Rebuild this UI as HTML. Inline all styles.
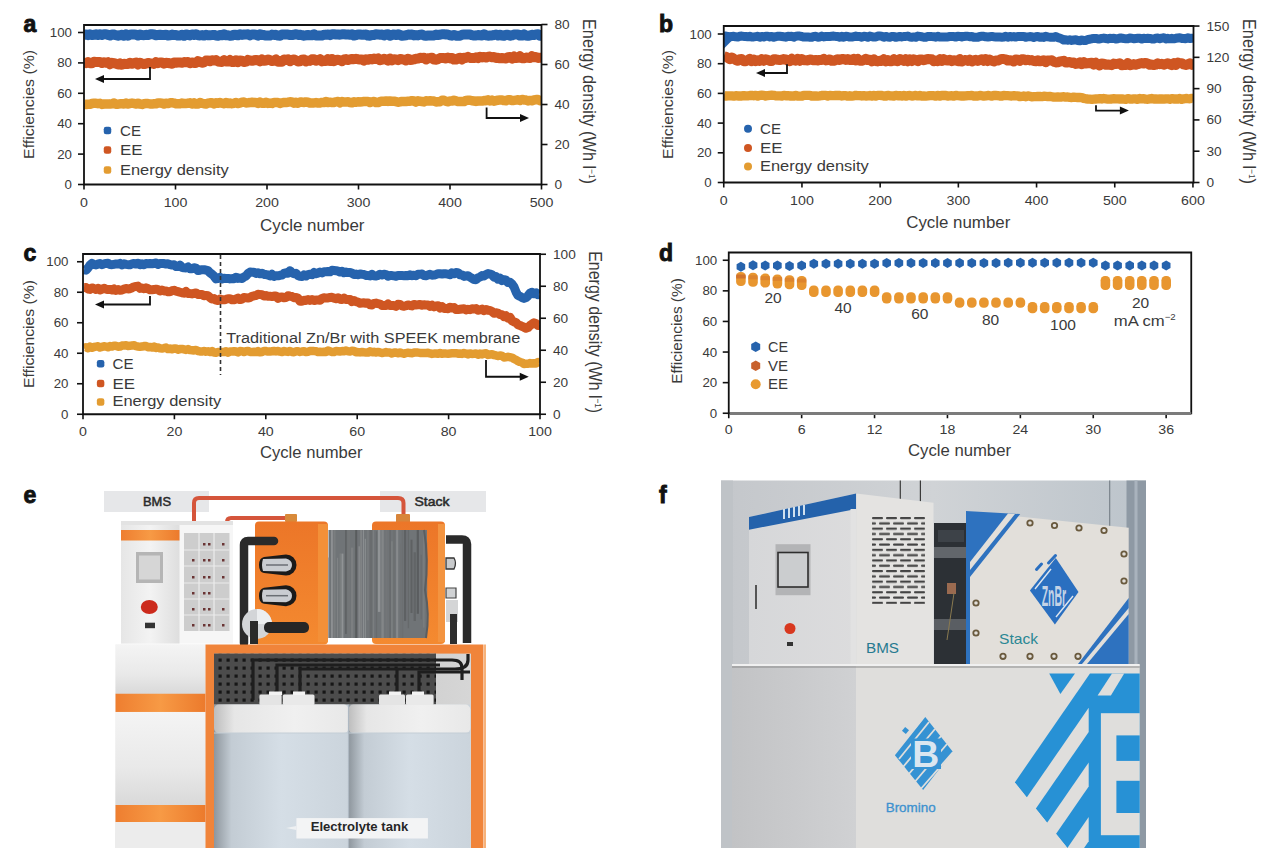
<!DOCTYPE html>
<html><head><meta charset="utf-8"><style>
html,body{margin:0;padding:0;background:#fff;}
body{width:1280px;height:848px;overflow:hidden;}
svg{display:block;font-family:"Liberation Sans",sans-serif;}
</style></head><body>
<svg width="1280" height="848" viewBox="0 0 1280 848" font-family="Liberation Sans, sans-serif">
<rect width="1280" height="848" fill="#ffffff"/>
<clipPath id="ca"><rect x="84" y="25" width="457.5" height="159.5"/></clipPath>
<text x="23.5" y="31.7" font-size="23" text-anchor="start" fill="#111" font-weight="bold" stroke="#111" stroke-width="0.9">a</text>
<polyline points="84.0,34.7 86.0,34.4 88.0,35.2 90.0,34.3 92.0,35.1 94.0,34.8 96.0,34.3 98.0,35.0 100.0,34.3 102.0,34.9 104.0,34.3 106.0,34.3 108.0,34.9 110.0,35.5 112.0,34.4 114.0,34.6 116.0,35.2 118.0,35.7 120.0,35.1 122.0,34.8 124.0,35.8 126.0,34.3 128.0,35.6 130.0,34.7 132.0,34.4 134.0,34.4 136.0,34.7 138.0,35.5 140.0,34.5 142.0,35.1 144.0,35.2 146.0,34.8 148.0,35.1 150.0,34.3 152.0,34.3 154.0,34.5 156.0,35.3 158.0,34.9 160.0,34.7 162.0,35.1 164.0,34.9 166.0,34.7 168.0,35.5 170.0,35.3 172.0,34.6 174.0,35.1 176.0,35.0 178.0,35.6 180.0,35.4 182.0,34.7 184.0,35.8 186.0,34.4 188.0,34.9 190.0,35.4 192.0,34.4 194.0,35.0 196.0,34.3 198.0,35.3 200.0,35.4 202.0,35.1 204.0,35.6 206.0,34.7 208.0,35.3 210.0,35.2 212.0,35.1 214.0,34.9 216.0,35.5 218.0,35.7 220.0,35.0 222.0,35.3 224.0,34.3 226.0,35.3 228.0,35.2 230.0,35.8 232.0,35.5 234.0,34.7 236.0,34.8 238.0,35.3 240.0,34.2 242.0,34.9 244.0,34.5 246.0,34.4 248.0,34.3 250.0,35.4 252.0,34.4 254.0,34.6 256.0,34.8 258.0,35.6 260.0,34.3 262.0,34.9 264.0,35.1 266.0,35.6 268.0,35.5 270.0,35.6 272.0,34.6 274.0,34.9 276.0,34.8 278.0,35.6 280.0,35.7 282.0,34.4 284.0,34.5 286.0,34.6 288.0,34.6 290.0,35.0 292.0,35.1 294.0,34.6 296.0,34.2 298.0,34.9 300.0,34.8 302.0,35.1 304.0,35.7 306.0,35.3 308.0,35.0 310.0,35.2 312.0,35.3 314.0,34.3 316.0,35.6 318.0,35.4 320.0,35.6 322.0,35.5 324.0,34.8 326.0,34.8 328.0,34.4 330.0,35.2 332.0,34.3 334.0,34.3 336.0,34.5 338.0,34.5 340.0,34.7 342.0,34.3 344.0,34.2 346.0,34.4 348.0,34.4 350.0,34.8 352.0,34.2 354.0,35.6 356.0,35.2 358.0,34.4 360.0,34.6 362.0,34.8 364.0,34.8 366.0,34.4 368.0,35.6 370.0,35.8 372.0,34.9 374.0,35.0 376.0,34.3 378.0,34.4 380.0,34.7 382.0,34.6 384.0,35.5 386.0,34.5 388.0,34.2 390.0,35.7 392.0,35.0 394.0,34.4 396.0,35.1 398.0,34.2 400.0,35.0 402.0,35.8 404.0,35.6 406.0,35.3 408.0,34.6 410.0,34.8 412.0,34.5 414.0,35.4 416.0,35.1 418.0,35.4 420.0,34.7 422.0,34.6 424.0,35.5 426.0,35.8 428.0,35.6 430.0,35.5 432.0,35.5 434.0,35.4 436.0,34.6 438.0,35.0 440.0,34.8 442.0,34.2 444.0,34.2 446.0,34.6 448.0,34.6 450.0,35.3 452.0,35.7 454.0,34.9 456.0,35.7 458.0,35.8 460.0,35.7 462.0,34.8 464.0,34.6 466.0,34.6 468.0,34.5 470.0,34.5 472.0,35.2 474.0,35.6 476.0,35.5 478.0,35.0 480.0,35.2 482.0,35.5 484.0,34.3 486.0,35.3 488.0,35.7 490.0,35.5 492.0,35.4 494.0,35.0 496.0,34.5 498.0,35.5 500.0,34.7 502.0,35.5 504.0,35.8 506.0,34.8 508.0,34.8 510.0,35.7 512.0,35.4 514.0,34.5 516.0,34.4 518.0,34.4 520.0,35.6 522.0,35.5 524.0,34.4 526.0,35.5 528.0,35.8 530.0,35.3 532.0,34.8 534.0,35.1 536.0,34.4 538.0,34.2 540.0,35.8 541.5,35.2" fill="none" stroke="#2663ad" stroke-width="10" stroke-linejoin="round" stroke-linecap="butt" clip-path="url(#ca)"/>
<polyline points="84.0,62.1 86.0,63.2 88.0,62.0 90.0,63.2 92.0,63.2 94.0,61.7 96.0,61.9 98.0,62.1 100.0,62.0 102.0,63.0 104.0,62.2 106.0,62.8 108.0,62.1 110.0,64.2 112.0,62.8 114.0,63.2 116.0,63.6 118.0,64.5 120.0,63.4 122.0,64.7 124.0,63.8 126.0,63.9 128.0,64.0 130.0,62.7 132.0,63.8 134.0,63.0 136.0,62.5 138.0,64.5 140.0,62.8 142.0,63.5 144.0,64.1 146.0,63.6 148.0,62.9 150.0,63.4 152.0,63.4 154.0,63.9 156.0,62.1 158.0,63.2 160.0,62.4 162.0,62.4 164.0,63.6 166.0,62.8 168.0,62.9 170.0,63.4 172.0,63.7 174.0,62.4 176.0,62.8 178.0,62.4 180.0,62.4 182.0,62.8 184.0,62.1 186.0,62.2 188.0,62.0 190.0,63.2 192.0,62.5 194.0,62.9 196.0,63.0 198.0,61.1 200.0,61.9 202.0,62.8 204.0,62.4 206.0,60.6 208.0,60.5 210.0,61.2 212.0,60.2 214.0,60.6 216.0,60.1 218.0,61.5 220.0,61.8 222.0,62.0 224.0,60.1 226.0,61.5 228.0,61.4 230.0,60.0 232.0,61.9 234.0,62.1 236.0,60.2 238.0,62.1 240.0,60.6 242.0,60.8 244.0,62.1 246.0,61.7 248.0,59.9 250.0,60.6 252.0,60.8 254.0,60.3 256.0,60.0 258.0,60.3 260.0,61.3 262.0,59.5 264.0,60.8 266.0,60.5 268.0,59.4 270.0,60.2 272.0,61.0 274.0,60.6 276.0,59.5 278.0,61.8 280.0,61.3 282.0,61.8 284.0,59.5 286.0,59.9 288.0,59.3 290.0,61.2 292.0,59.9 294.0,59.5 296.0,60.3 298.0,61.5 300.0,61.3 302.0,59.8 304.0,59.5 306.0,61.5 308.0,60.6 310.0,60.9 312.0,59.3 314.0,59.2 316.0,60.8 318.0,60.1 320.0,59.2 322.0,61.4 324.0,60.6 326.0,61.0 328.0,59.1 330.0,61.1 332.0,59.1 334.0,61.1 336.0,60.0 338.0,59.7 340.0,60.3 342.0,61.2 344.0,59.5 346.0,59.1 348.0,60.1 350.0,59.4 352.0,59.0 354.0,59.2 356.0,58.8 358.0,59.2 360.0,59.5 362.0,59.4 364.0,60.6 366.0,59.3 368.0,59.8 370.0,59.0 372.0,59.4 374.0,58.5 376.0,59.1 378.0,58.4 380.0,60.3 382.0,59.7 384.0,58.8 386.0,59.5 388.0,60.6 390.0,58.5 392.0,60.3 394.0,59.2 396.0,59.4 398.0,60.2 400.0,59.0 402.0,59.3 404.0,59.7 406.0,60.5 408.0,58.8 410.0,60.0 412.0,59.7 414.0,59.4 416.0,58.8 418.0,58.6 420.0,57.8 422.0,58.0 424.0,57.8 426.0,59.5 428.0,58.2 430.0,58.0 432.0,57.7 434.0,59.6 436.0,59.7 438.0,59.1 440.0,58.1 442.0,58.0 444.0,58.1 446.0,58.5 448.0,57.6 450.0,58.4 452.0,57.9 454.0,59.6 456.0,59.6 458.0,58.5 460.0,57.7 462.0,59.5 464.0,57.8 466.0,57.9 468.0,56.9 470.0,57.9 472.0,58.1 474.0,58.1 476.0,57.3 478.0,58.1 480.0,56.7 482.0,57.4 484.0,56.9 486.0,57.6 488.0,56.7 490.0,56.6 492.0,57.3 494.0,57.1 496.0,58.0 498.0,57.8 500.0,58.3 502.0,58.1 504.0,58.2 506.0,58.6 508.0,57.3 510.0,57.1 512.0,58.7 514.0,56.5 516.0,58.0 518.0,57.8 520.0,56.2 522.0,58.2 524.0,58.3 526.0,57.6 528.0,57.8 530.0,58.0 532.0,56.2 534.0,57.2 536.0,57.1 538.0,57.9 540.0,57.8 541.5,57.8" fill="none" stroke="#cf5622" stroke-width="10" stroke-linejoin="round" stroke-linecap="butt" clip-path="url(#ca)"/>
<polyline points="84.0,104.1 86.0,104.6 88.0,104.3 90.0,104.3 92.0,103.5 94.0,103.2 96.0,103.3 98.0,103.7 100.0,103.3 102.0,104.4 104.0,104.0 106.0,104.1 108.0,104.1 110.0,104.1 112.0,103.8 114.0,103.0 116.0,104.3 118.0,104.2 120.0,103.8 122.0,103.8 124.0,104.0 126.0,103.1 128.0,104.1 130.0,103.4 132.0,103.1 134.0,103.4 136.0,104.1 138.0,103.2 140.0,104.1 142.0,104.4 144.0,103.7 146.0,103.5 148.0,103.6 150.0,103.9 152.0,104.1 154.0,103.8 156.0,103.8 158.0,102.9 160.0,103.0 162.0,103.2 164.0,104.0 166.0,103.2 168.0,103.6 170.0,102.8 172.0,102.8 174.0,103.1 176.0,103.8 178.0,103.8 180.0,103.7 182.0,103.1 184.0,103.5 186.0,103.4 188.0,103.3 190.0,102.8 192.0,104.0 194.0,102.9 196.0,104.1 198.0,104.0 200.0,102.5 202.0,103.2 204.0,103.8 206.0,104.0 208.0,103.2 210.0,102.8 212.0,102.7 214.0,103.9 216.0,102.7 218.0,103.3 220.0,102.6 222.0,103.2 224.0,103.8 226.0,102.5 228.0,103.6 230.0,103.1 232.0,103.7 234.0,103.3 236.0,102.6 238.0,103.6 240.0,102.9 242.0,102.2 244.0,102.1 246.0,102.9 248.0,102.8 250.0,102.6 252.0,102.3 254.0,102.6 256.0,102.5 258.0,103.4 260.0,102.0 262.0,103.2 264.0,103.3 266.0,102.2 268.0,103.4 270.0,103.1 272.0,103.4 274.0,102.4 276.0,102.5 278.0,102.5 280.0,103.4 282.0,102.8 284.0,102.4 286.0,102.5 288.0,102.2 290.0,101.8 292.0,101.9 294.0,103.1 296.0,102.2 298.0,103.2 300.0,102.1 302.0,102.1 304.0,102.5 306.0,101.9 308.0,102.2 310.0,103.1 312.0,103.0 314.0,102.9 316.0,102.6 318.0,103.0 320.0,103.0 322.0,102.4 324.0,102.6 326.0,101.5 328.0,102.6 330.0,102.2 332.0,102.6 334.0,102.4 336.0,101.8 338.0,101.4 340.0,102.8 342.0,101.5 344.0,102.1 346.0,101.9 348.0,101.8 350.0,102.5 352.0,102.8 354.0,101.7 356.0,102.3 358.0,101.7 360.0,102.1 362.0,101.8 364.0,101.4 366.0,101.4 368.0,101.4 370.0,102.5 372.0,101.8 374.0,101.4 376.0,102.5 378.0,102.6 380.0,101.7 382.0,101.2 384.0,101.2 386.0,101.0 388.0,101.4 390.0,101.0 392.0,101.2 394.0,101.2 396.0,101.7 398.0,102.2 400.0,101.9 402.0,101.4 404.0,101.4 406.0,101.5 408.0,101.3 410.0,101.2 412.0,100.7 414.0,101.0 416.0,102.1 418.0,100.8 420.0,101.3 422.0,101.5 424.0,101.9 426.0,100.8 428.0,100.9 430.0,100.8 432.0,101.0 434.0,101.1 436.0,101.9 438.0,101.7 440.0,101.7 442.0,100.3 444.0,100.3 446.0,101.4 448.0,101.7 450.0,101.0 452.0,101.1 454.0,100.2 456.0,100.8 458.0,101.6 460.0,101.4 462.0,101.4 464.0,101.6 466.0,100.4 468.0,100.2 470.0,100.2 472.0,100.8 474.0,101.0 476.0,101.4 478.0,101.0 480.0,100.9 482.0,101.1 484.0,100.6 486.0,100.7 488.0,99.8 490.0,101.0 492.0,100.1 494.0,101.2 496.0,100.7 498.0,100.2 500.0,99.9 502.0,100.0 504.0,100.6 506.0,100.7 508.0,99.7 510.0,99.7 512.0,100.4 514.0,100.4 516.0,100.1 518.0,99.8 520.0,100.4 522.0,99.4 524.0,99.9 526.0,100.1 528.0,100.9 530.0,100.4 532.0,100.7 534.0,100.0 536.0,99.6 538.0,99.6 540.0,100.8 541.5,100.3" fill="none" stroke="#e39c31" stroke-width="9.5" stroke-linejoin="round" stroke-linecap="butt" clip-path="url(#ca)"/>
<path d="M84 25 H541.5 V184.5 H84 Z" fill="none" stroke="#111" stroke-width="1.8"/>
<line x1="84.0" y1="184.5" x2="84.0" y2="189.5" stroke="#111" stroke-width="1.6"/>
<text x="84.0" y="206.5" font-size="13" text-anchor="middle" fill="#3a3a3a" font-weight="normal"  textLength="7.9" lengthAdjust="spacingAndGlyphs">0</text>
<line x1="175.5" y1="184.5" x2="175.5" y2="189.5" stroke="#111" stroke-width="1.6"/>
<text x="175.5" y="206.5" font-size="13" text-anchor="middle" fill="#3a3a3a" font-weight="normal"  textLength="23.700000000000003" lengthAdjust="spacingAndGlyphs">100</text>
<line x1="267.0" y1="184.5" x2="267.0" y2="189.5" stroke="#111" stroke-width="1.6"/>
<text x="267.0" y="206.5" font-size="13" text-anchor="middle" fill="#3a3a3a" font-weight="normal"  textLength="23.700000000000003" lengthAdjust="spacingAndGlyphs">200</text>
<line x1="358.5" y1="184.5" x2="358.5" y2="189.5" stroke="#111" stroke-width="1.6"/>
<text x="358.5" y="206.5" font-size="13" text-anchor="middle" fill="#3a3a3a" font-weight="normal"  textLength="23.700000000000003" lengthAdjust="spacingAndGlyphs">300</text>
<line x1="450.0" y1="184.5" x2="450.0" y2="189.5" stroke="#111" stroke-width="1.6"/>
<text x="450.0" y="206.5" font-size="13" text-anchor="middle" fill="#3a3a3a" font-weight="normal"  textLength="23.700000000000003" lengthAdjust="spacingAndGlyphs">400</text>
<line x1="541.5" y1="184.5" x2="541.5" y2="189.5" stroke="#111" stroke-width="1.6"/>
<text x="541.5" y="206.5" font-size="13" text-anchor="middle" fill="#3a3a3a" font-weight="normal"  textLength="23.700000000000003" lengthAdjust="spacingAndGlyphs">500</text>
<line x1="78" y1="184.5" x2="84" y2="184.5" stroke="#111" stroke-width="1.6"/>
<text x="72" y="189.0" font-size="13" text-anchor="end" fill="#3a3a3a" font-weight="normal"  textLength="7.4" lengthAdjust="spacingAndGlyphs">0</text>
<line x1="78" y1="154.1" x2="84" y2="154.1" stroke="#111" stroke-width="1.6"/>
<text x="72" y="158.6" font-size="13" text-anchor="end" fill="#3a3a3a" font-weight="normal"  textLength="14.8" lengthAdjust="spacingAndGlyphs">20</text>
<line x1="78" y1="123.7" x2="84" y2="123.7" stroke="#111" stroke-width="1.6"/>
<text x="72" y="128.2" font-size="13" text-anchor="end" fill="#3a3a3a" font-weight="normal"  textLength="14.8" lengthAdjust="spacingAndGlyphs">40</text>
<line x1="78" y1="93.3" x2="84" y2="93.3" stroke="#111" stroke-width="1.6"/>
<text x="72" y="97.8" font-size="13" text-anchor="end" fill="#3a3a3a" font-weight="normal"  textLength="14.8" lengthAdjust="spacingAndGlyphs">60</text>
<line x1="78" y1="62.900000000000006" x2="84" y2="62.900000000000006" stroke="#111" stroke-width="1.6"/>
<text x="72" y="67.4" font-size="13" text-anchor="end" fill="#3a3a3a" font-weight="normal"  textLength="14.8" lengthAdjust="spacingAndGlyphs">80</text>
<line x1="78" y1="32.5" x2="84" y2="32.5" stroke="#111" stroke-width="1.6"/>
<text x="72" y="37.0" font-size="13" text-anchor="end" fill="#3a3a3a" font-weight="normal"  textLength="22.200000000000003" lengthAdjust="spacingAndGlyphs">100</text>
<line x1="541.5" y1="184.5" x2="547.5" y2="184.5" stroke="#111" stroke-width="1.6"/>
<text x="554.5" y="189.0" font-size="13" text-anchor="start" fill="#3a3a3a" font-weight="normal"  textLength="7.6" lengthAdjust="spacingAndGlyphs">0</text>
<line x1="541.5" y1="144.5" x2="547.5" y2="144.5" stroke="#111" stroke-width="1.6"/>
<text x="554.5" y="149.0" font-size="13" text-anchor="start" fill="#3a3a3a" font-weight="normal"  textLength="15.2" lengthAdjust="spacingAndGlyphs">20</text>
<line x1="541.5" y1="104.5" x2="547.5" y2="104.5" stroke="#111" stroke-width="1.6"/>
<text x="554.5" y="109.0" font-size="13" text-anchor="start" fill="#3a3a3a" font-weight="normal"  textLength="15.2" lengthAdjust="spacingAndGlyphs">40</text>
<line x1="541.5" y1="64.5" x2="547.5" y2="64.5" stroke="#111" stroke-width="1.6"/>
<text x="554.5" y="69.0" font-size="13" text-anchor="start" fill="#3a3a3a" font-weight="normal"  textLength="15.2" lengthAdjust="spacingAndGlyphs">60</text>
<line x1="541.5" y1="24.5" x2="547.5" y2="24.5" stroke="#111" stroke-width="1.6"/>
<text x="554.5" y="29.0" font-size="13" text-anchor="start" fill="#3a3a3a" font-weight="normal"  textLength="15.2" lengthAdjust="spacingAndGlyphs">80</text>
<path d="M150 67 V79 H99" fill="none" stroke="#111" stroke-width="1.8"/>
<path d="M95 79 L104 75 L104 83 Z" fill="#111"/>
<path d="M486.6 107.5 V118 H525" fill="none" stroke="#111" stroke-width="1.8"/>
<path d="M529 118 L520 114 L520 122 Z" fill="#111"/>
<rect x="103.75" y="126.85" width="7.5" height="7.5" rx="2.3" fill="#2663ad"/>
<text x="120" y="135.75" font-size="14.5" text-anchor="start" fill="#3a3a3a" font-weight="normal"  textLength="21" lengthAdjust="spacingAndGlyphs">CE</text>
<rect x="103.75" y="146.25" width="7.5" height="7.5" rx="2.3" fill="#cf5622"/>
<text x="120" y="155.2" font-size="14.5" text-anchor="start" fill="#3a3a3a" font-weight="normal"  textLength="22.5" lengthAdjust="spacingAndGlyphs">EE</text>
<rect x="103.75" y="166.25" width="7.5" height="7.5" rx="2.3" fill="#e39c31"/>
<text x="120" y="175" font-size="14.5" text-anchor="start" fill="#3a3a3a" font-weight="normal"  textLength="108.75" lengthAdjust="spacingAndGlyphs">Energy density</text>
<text x="260" y="231" font-size="16" text-anchor="start" fill="#3a3a3a" font-weight="normal"  textLength="104.5" lengthAdjust="spacingAndGlyphs">Cycle number</text>
<text x="0" y="0" font-size="15" text-anchor="middle" fill="#3a3a3a" transform="translate(34 104.4) rotate(-90)" textLength="109" lengthAdjust="spacingAndGlyphs">Efficiencies (%)</text>
<text x="0" y="0" font-size="17.5" text-anchor="middle" fill="#3a3a3a" transform="translate(583 101.5) rotate(90)" textLength="165" lengthAdjust="spacingAndGlyphs">Energy density (Wh l<tspan font-size="9" dy="-6">−1</tspan><tspan dy="6">)</tspan></text>
<clipPath id="cb"><rect x="723.75" y="26" width="469.75" height="156.5"/></clipPath>
<text x="659" y="31.9" font-size="23" text-anchor="start" fill="#111" font-weight="bold" stroke="#111" stroke-width="0.9">b</text>
<polyline points="723.8,36.4 725.8,36.0 727.8,36.6 729.8,36.8 731.8,36.5 733.8,36.3 735.8,36.8 737.8,37.1 739.8,36.3 741.8,36.1 743.8,36.4 745.8,36.5 747.8,36.8 749.8,36.3 751.8,37.0 753.8,36.9 755.8,36.6 757.8,36.3 759.8,37.2 761.8,36.4 763.8,37.0 765.8,36.3 767.8,36.3 769.8,36.9 771.8,36.4 773.8,37.2 775.8,36.6 777.8,36.3 779.8,36.3 781.8,36.5 783.8,36.8 785.8,37.2 787.8,36.2 789.8,36.5 791.8,36.3 793.8,37.2 795.8,36.2 797.8,36.1 799.8,36.1 801.8,36.5 803.8,37.1 805.8,37.1 807.8,36.9 809.8,37.2 811.8,37.2 813.8,36.4 815.8,36.3 817.8,37.2 819.8,37.0 821.8,36.1 823.8,36.9 825.8,36.5 827.8,36.5 829.8,36.5 831.8,36.3 833.8,36.1 835.8,36.4 837.8,36.5 839.8,37.2 841.8,36.2 843.8,37.2 845.8,36.3 847.8,36.5 849.8,37.1 851.8,37.1 853.8,36.6 855.8,36.1 857.8,36.6 859.8,36.5 861.8,37.2 863.8,36.3 865.8,36.5 867.8,37.2 869.8,36.1 871.8,36.6 873.8,37.1 875.8,37.0 877.8,36.1 879.8,36.1 881.8,36.2 883.8,37.2 885.8,36.4 887.8,37.0 889.8,37.2 891.8,36.5 893.8,36.4 895.8,37.3 897.8,36.8 899.8,36.4 901.8,37.0 903.8,36.5 905.8,36.4 907.8,36.1 909.8,37.0 911.8,37.2 913.8,36.9 915.8,37.2 917.8,36.1 919.8,36.4 921.8,36.7 923.8,37.3 925.8,37.3 927.8,36.6 929.8,36.4 931.8,36.6 933.8,36.7 935.8,37.2 937.8,36.3 939.8,37.1 941.8,37.0 943.8,37.1 945.8,37.1 947.8,36.9 949.8,36.5 951.8,36.5 953.8,36.6 955.8,37.1 957.8,36.2 959.8,36.4 961.8,37.0 963.8,36.4 965.8,36.2 967.8,36.2 969.8,36.8 971.8,36.5 973.8,37.3 975.8,37.2 977.8,37.3 979.8,36.5 981.8,36.3 983.8,36.3 985.8,36.8 987.8,37.0 989.8,36.7 991.8,36.4 993.8,36.7 995.8,36.9 997.8,37.0 999.8,37.1 1001.8,37.2 1003.8,37.0 1005.8,36.3 1007.8,37.2 1009.8,36.5 1011.8,36.9 1013.8,36.6 1015.8,37.1 1017.8,36.4 1019.8,36.5 1021.8,36.5 1023.8,36.4 1025.8,37.2 1027.8,36.9 1029.8,36.6 1031.8,36.7 1033.8,37.4 1035.8,36.8 1037.8,36.5 1039.8,37.2 1041.8,37.0 1043.8,37.4 1045.8,36.3 1047.8,36.8 1049.8,37.2 1051.8,37.2 1053.8,37.3 1055.8,36.6 1057.8,37.6 1059.8,38.1 1061.8,38.9 1063.8,40.1 1065.8,39.7 1067.8,40.3 1069.8,39.7 1071.8,40.4 1073.8,40.0 1075.8,39.8 1077.8,40.5 1079.8,40.8 1081.8,39.9 1083.8,40.6 1085.8,40.4 1087.8,39.5 1089.8,39.3 1091.8,38.7 1093.8,38.4 1095.8,38.4 1097.8,38.9 1099.8,38.9 1101.8,38.4 1103.8,38.1 1105.8,38.5 1107.8,38.9 1109.8,38.3 1111.8,38.4 1113.8,38.3 1115.8,39.0 1117.8,38.7 1119.8,38.1 1121.8,38.1 1123.8,38.5 1125.8,38.7 1127.8,38.8 1129.8,38.1 1131.8,38.2 1133.8,38.8 1135.8,38.5 1137.8,38.3 1139.8,38.3 1141.8,39.1 1143.8,38.3 1145.8,38.6 1147.8,38.3 1149.8,38.4 1151.8,38.9 1153.8,39.1 1155.8,38.3 1157.8,38.1 1159.8,38.7 1161.8,38.1 1163.8,37.8 1165.8,38.9 1167.8,38.3 1169.8,38.8 1171.8,38.3 1173.8,38.8 1175.8,38.3 1177.8,38.0 1179.8,37.8 1181.8,38.4 1183.8,38.5 1185.8,38.8 1187.8,37.8 1189.8,38.5 1191.8,38.2 1193.5,38.3" fill="none" stroke="#2663ad" stroke-width="9" stroke-linejoin="round" stroke-linecap="butt" clip-path="url(#cb)"/>
<polygon points="724,34 732,40.5 724,48.4" fill="#2663ad"/>
<polyline points="723.8,56.1 725.8,56.8 727.8,57.8 729.8,59.2 731.8,57.5 733.8,58.8 735.8,60.0 737.8,60.8 739.8,59.2 741.8,59.0 743.8,61.2 745.8,61.2 747.8,60.0 749.8,58.8 751.8,61.1 753.8,59.7 755.8,61.1 757.8,60.3 759.8,60.9 761.8,59.1 763.8,60.8 765.8,59.3 767.8,59.8 769.8,60.9 771.8,60.9 773.8,59.2 775.8,59.3 777.8,59.8 779.8,60.1 781.8,59.7 783.8,59.1 785.8,59.4 787.8,60.6 789.8,61.1 791.8,58.8 793.8,60.2 795.8,60.7 797.8,58.8 799.8,60.9 801.8,59.1 803.8,60.3 805.8,60.2 807.8,60.4 809.8,59.5 811.8,59.8 813.8,60.3 815.8,59.9 817.8,60.5 819.8,59.9 821.8,59.9 823.8,58.8 825.8,60.4 827.8,60.0 829.8,59.4 831.8,60.8 833.8,60.8 835.8,60.0 837.8,59.2 839.8,60.0 841.8,59.1 843.8,59.1 845.8,59.9 847.8,59.0 849.8,59.9 851.8,60.1 853.8,58.9 855.8,60.4 857.8,59.0 859.8,60.7 861.8,60.8 863.8,60.1 865.8,58.9 867.8,60.1 869.8,59.8 871.8,61.3 873.8,59.2 875.8,61.0 877.8,61.4 879.8,60.7 881.8,60.9 883.8,59.3 885.8,61.4 887.8,60.1 889.8,61.3 891.8,61.2 893.8,59.2 895.8,60.9 897.8,61.2 899.8,59.0 901.8,59.7 903.8,60.8 905.8,59.2 907.8,61.2 909.8,59.5 911.8,61.0 913.8,59.2 915.8,60.1 917.8,61.2 919.8,59.4 921.8,59.5 923.8,60.2 925.8,59.7 927.8,58.9 929.8,59.3 931.8,59.3 933.8,61.3 935.8,60.6 937.8,61.2 939.8,59.3 941.8,60.9 943.8,59.2 945.8,60.2 947.8,60.5 949.8,59.8 951.8,61.1 953.8,60.3 955.8,60.4 957.8,61.2 959.8,59.1 961.8,61.5 963.8,60.5 965.8,59.9 967.8,60.9 969.8,59.6 971.8,61.5 973.8,60.4 975.8,59.8 977.8,60.9 979.8,60.0 981.8,59.3 983.8,60.8 985.8,59.0 987.8,61.0 989.8,59.6 991.8,60.6 993.8,61.5 995.8,60.4 997.8,60.6 999.8,59.7 1001.8,58.9 1003.8,59.1 1005.8,59.4 1007.8,60.6 1009.8,60.2 1011.8,60.4 1013.8,61.5 1015.8,59.5 1017.8,59.8 1019.8,60.9 1021.8,59.3 1023.8,59.3 1025.8,60.3 1027.8,59.7 1029.8,60.4 1031.8,60.1 1033.8,61.1 1035.8,61.2 1037.8,60.2 1039.8,61.3 1041.8,61.0 1043.8,60.2 1045.8,62.3 1047.8,60.6 1049.8,60.4 1051.8,60.3 1053.8,61.7 1055.8,62.4 1057.8,62.3 1059.8,61.5 1061.8,61.3 1063.8,60.7 1065.8,62.5 1067.8,62.4 1069.8,62.0 1071.8,62.9 1073.8,62.5 1075.8,63.9 1077.8,63.5 1079.8,62.4 1081.8,64.2 1083.8,62.1 1085.8,63.5 1087.8,63.3 1089.8,63.0 1091.8,62.7 1093.8,64.7 1095.8,62.8 1097.8,64.4 1099.8,65.5 1101.8,63.6 1103.8,63.7 1105.8,64.7 1107.8,64.5 1109.8,64.8 1111.8,65.2 1113.8,63.6 1115.8,63.9 1117.8,63.8 1119.8,63.2 1121.8,65.3 1123.8,65.1 1125.8,64.9 1127.8,63.0 1129.8,65.2 1131.8,64.9 1133.8,64.1 1135.8,64.8 1137.8,64.1 1139.8,63.5 1141.8,63.1 1143.8,63.5 1145.8,62.9 1147.8,63.7 1149.8,64.8 1151.8,64.6 1153.8,65.0 1155.8,64.6 1157.8,63.4 1159.8,64.2 1161.8,63.8 1163.8,64.7 1165.8,64.0 1167.8,63.3 1169.8,64.3 1171.8,65.1 1173.8,63.2 1175.8,64.9 1177.8,62.6 1179.8,63.2 1181.8,63.2 1183.8,64.5 1185.8,65.0 1187.8,64.4 1189.8,63.3 1191.8,64.8 1193.5,63.3" fill="none" stroke="#cf5622" stroke-width="10" stroke-linejoin="round" stroke-linecap="butt" clip-path="url(#cb)"/>
<polyline points="723.8,95.4 725.8,96.1 727.8,95.8 729.8,95.9 731.8,95.9 733.8,96.2 735.8,95.7 737.8,96.0 739.8,95.9 741.8,96.1 743.8,95.6 745.8,95.9 747.8,95.8 749.8,95.5 751.8,95.4 753.8,95.8 755.8,95.3 757.8,96.1 759.8,95.4 761.8,95.2 763.8,95.3 765.8,96.1 767.8,95.6 769.8,95.4 771.8,95.2 773.8,95.3 775.8,95.9 777.8,95.9 779.8,95.9 781.8,96.0 783.8,95.3 785.8,95.8 787.8,95.6 789.8,96.0 791.8,96.0 793.8,96.1 795.8,95.3 797.8,96.1 799.8,96.1 801.8,96.2 803.8,95.3 805.8,95.4 807.8,95.3 809.8,95.3 811.8,96.1 813.8,96.0 815.8,95.9 817.8,96.1 819.8,95.9 821.8,95.5 823.8,95.3 825.8,95.3 827.8,96.0 829.8,95.4 831.8,95.6 833.8,95.7 835.8,95.3 837.8,95.5 839.8,95.5 841.8,96.0 843.8,95.6 845.8,95.6 847.8,96.2 849.8,95.7 851.8,96.1 853.8,95.9 855.8,95.3 857.8,95.7 859.8,95.7 861.8,96.0 863.8,95.6 865.8,96.0 867.8,95.8 869.8,95.5 871.8,96.1 873.8,95.3 875.8,96.1 877.8,95.4 879.8,95.3 881.8,95.5 883.8,96.0 885.8,96.2 887.8,95.3 889.8,95.8 891.8,95.8 893.8,96.1 895.8,95.4 897.8,95.8 899.8,95.6 901.8,96.1 903.8,95.5 905.8,96.2 907.8,95.6 909.8,95.5 911.8,96.0 913.8,95.8 915.8,95.4 917.8,95.9 919.8,95.4 921.8,96.1 923.8,96.0 925.8,96.1 927.8,95.9 929.8,95.6 931.8,95.7 933.8,95.7 935.8,96.2 937.8,95.4 939.8,96.2 941.8,95.3 943.8,95.5 945.8,95.5 947.8,96.2 949.8,95.8 951.8,95.7 953.8,96.2 955.8,95.5 957.8,95.7 959.8,95.8 961.8,96.0 963.8,96.0 965.8,95.9 967.8,95.6 969.8,95.6 971.8,95.4 973.8,96.1 975.8,96.0 977.8,96.0 979.8,95.5 981.8,95.7 983.8,96.1 985.8,95.9 987.8,95.4 989.8,95.8 991.8,96.2 993.8,95.5 995.8,95.5 997.8,95.6 999.8,96.0 1001.8,96.2 1003.8,95.5 1005.8,95.6 1007.8,95.7 1009.8,95.8 1011.8,96.0 1013.8,95.7 1015.8,95.9 1017.8,95.8 1019.8,96.7 1021.8,96.4 1023.8,95.9 1025.8,96.8 1027.8,95.9 1029.8,96.3 1031.8,96.9 1033.8,96.7 1035.8,96.7 1037.8,96.5 1039.8,96.3 1041.8,96.7 1043.8,96.2 1045.8,96.4 1047.8,96.6 1049.8,96.3 1051.8,96.7 1053.8,97.1 1055.8,97.1 1057.8,96.9 1059.8,97.1 1061.8,97.0 1063.8,96.7 1065.8,97.2 1067.8,97.0 1069.8,97.4 1071.8,97.6 1073.8,97.1 1075.8,97.3 1077.8,97.5 1079.8,97.5 1081.8,97.6 1083.8,98.4 1085.8,98.8 1087.8,99.0 1089.8,99.1 1091.8,99.3 1093.8,99.1 1095.8,99.0 1097.8,98.9 1099.8,98.7 1101.8,99.0 1103.8,98.5 1105.8,98.8 1107.8,99.2 1109.8,99.1 1111.8,99.0 1113.8,98.7 1115.8,98.8 1117.8,98.9 1119.8,99.0 1121.8,98.8 1123.8,99.1 1125.8,99.3 1127.8,98.6 1129.8,99.1 1131.8,99.2 1133.8,98.8 1135.8,98.9 1137.8,99.4 1139.8,98.4 1141.8,98.9 1143.8,98.6 1145.8,99.2 1147.8,99.3 1149.8,98.9 1151.8,98.5 1153.8,99.0 1155.8,98.9 1157.8,99.1 1159.8,98.9 1161.8,99.0 1163.8,99.2 1165.8,98.9 1167.8,98.8 1169.8,99.3 1171.8,98.6 1173.8,99.1 1175.8,98.8 1177.8,99.2 1179.8,98.5 1181.8,99.4 1183.8,98.8 1185.8,98.5 1187.8,98.7 1189.8,98.8 1191.8,98.4 1193.5,98.8" fill="none" stroke="#e39c31" stroke-width="9.3" stroke-linejoin="round" stroke-linecap="butt" clip-path="url(#cb)"/>
<path d="M723.75 26 H1193.5 V182.5 H723.75 Z" fill="none" stroke="#111" stroke-width="1.8"/>
<line x1="723.75" y1="182.5" x2="723.75" y2="187.5" stroke="#111" stroke-width="1.6"/>
<text x="723.75" y="204.5" font-size="13" text-anchor="middle" fill="#3a3a3a" font-weight="normal"  textLength="7.9" lengthAdjust="spacingAndGlyphs">0</text>
<line x1="801.95" y1="182.5" x2="801.95" y2="187.5" stroke="#111" stroke-width="1.6"/>
<text x="801.95" y="204.5" font-size="13" text-anchor="middle" fill="#3a3a3a" font-weight="normal"  textLength="23.700000000000003" lengthAdjust="spacingAndGlyphs">100</text>
<line x1="880.15" y1="182.5" x2="880.15" y2="187.5" stroke="#111" stroke-width="1.6"/>
<text x="880.15" y="204.5" font-size="13" text-anchor="middle" fill="#3a3a3a" font-weight="normal"  textLength="23.700000000000003" lengthAdjust="spacingAndGlyphs">200</text>
<line x1="958.35" y1="182.5" x2="958.35" y2="187.5" stroke="#111" stroke-width="1.6"/>
<text x="958.35" y="204.5" font-size="13" text-anchor="middle" fill="#3a3a3a" font-weight="normal"  textLength="23.700000000000003" lengthAdjust="spacingAndGlyphs">300</text>
<line x1="1036.55" y1="182.5" x2="1036.55" y2="187.5" stroke="#111" stroke-width="1.6"/>
<text x="1036.55" y="204.5" font-size="13" text-anchor="middle" fill="#3a3a3a" font-weight="normal"  textLength="23.700000000000003" lengthAdjust="spacingAndGlyphs">400</text>
<line x1="1114.75" y1="182.5" x2="1114.75" y2="187.5" stroke="#111" stroke-width="1.6"/>
<text x="1114.75" y="204.5" font-size="13" text-anchor="middle" fill="#3a3a3a" font-weight="normal"  textLength="23.700000000000003" lengthAdjust="spacingAndGlyphs">500</text>
<line x1="1192.95" y1="182.5" x2="1192.95" y2="187.5" stroke="#111" stroke-width="1.6"/>
<text x="1192.95" y="204.5" font-size="13" text-anchor="middle" fill="#3a3a3a" font-weight="normal"  textLength="23.700000000000003" lengthAdjust="spacingAndGlyphs">600</text>
<line x1="717.75" y1="182.5" x2="723.75" y2="182.5" stroke="#111" stroke-width="1.6"/>
<text x="711.75" y="187.0" font-size="13" text-anchor="end" fill="#3a3a3a" font-weight="normal"  textLength="7.4" lengthAdjust="spacingAndGlyphs">0</text>
<line x1="717.75" y1="152.8" x2="723.75" y2="152.8" stroke="#111" stroke-width="1.6"/>
<text x="711.75" y="157.3" font-size="13" text-anchor="end" fill="#3a3a3a" font-weight="normal"  textLength="14.8" lengthAdjust="spacingAndGlyphs">20</text>
<line x1="717.75" y1="123.1" x2="723.75" y2="123.1" stroke="#111" stroke-width="1.6"/>
<text x="711.75" y="127.6" font-size="13" text-anchor="end" fill="#3a3a3a" font-weight="normal"  textLength="14.8" lengthAdjust="spacingAndGlyphs">40</text>
<line x1="717.75" y1="93.39999999999999" x2="723.75" y2="93.39999999999999" stroke="#111" stroke-width="1.6"/>
<text x="711.75" y="97.89999999999999" font-size="13" text-anchor="end" fill="#3a3a3a" font-weight="normal"  textLength="14.8" lengthAdjust="spacingAndGlyphs">60</text>
<line x1="717.75" y1="63.69999999999999" x2="723.75" y2="63.69999999999999" stroke="#111" stroke-width="1.6"/>
<text x="711.75" y="68.19999999999999" font-size="13" text-anchor="end" fill="#3a3a3a" font-weight="normal"  textLength="14.8" lengthAdjust="spacingAndGlyphs">80</text>
<line x1="717.75" y1="34.0" x2="723.75" y2="34.0" stroke="#111" stroke-width="1.6"/>
<text x="711.75" y="38.5" font-size="13" text-anchor="end" fill="#3a3a3a" font-weight="normal"  textLength="22.200000000000003" lengthAdjust="spacingAndGlyphs">100</text>
<line x1="1193.5" y1="182.5" x2="1199.5" y2="182.5" stroke="#111" stroke-width="1.6"/>
<text x="1206.5" y="187.0" font-size="13" text-anchor="start" fill="#3a3a3a" font-weight="normal"  textLength="7.6" lengthAdjust="spacingAndGlyphs">0</text>
<line x1="1193.5" y1="151.21" x2="1199.5" y2="151.21" stroke="#111" stroke-width="1.6"/>
<text x="1206.5" y="155.71" font-size="13" text-anchor="start" fill="#3a3a3a" font-weight="normal"  textLength="15.2" lengthAdjust="spacingAndGlyphs">30</text>
<line x1="1193.5" y1="119.92" x2="1199.5" y2="119.92" stroke="#111" stroke-width="1.6"/>
<text x="1206.5" y="124.42" font-size="13" text-anchor="start" fill="#3a3a3a" font-weight="normal"  textLength="15.2" lengthAdjust="spacingAndGlyphs">60</text>
<line x1="1193.5" y1="88.63000000000001" x2="1199.5" y2="88.63000000000001" stroke="#111" stroke-width="1.6"/>
<text x="1206.5" y="93.13000000000001" font-size="13" text-anchor="start" fill="#3a3a3a" font-weight="normal"  textLength="15.2" lengthAdjust="spacingAndGlyphs">90</text>
<line x1="1193.5" y1="57.34" x2="1199.5" y2="57.34" stroke="#111" stroke-width="1.6"/>
<text x="1206.5" y="61.84" font-size="13" text-anchor="start" fill="#3a3a3a" font-weight="normal"  textLength="22.799999999999997" lengthAdjust="spacingAndGlyphs">120</text>
<line x1="1193.5" y1="26.05000000000001" x2="1199.5" y2="26.05000000000001" stroke="#111" stroke-width="1.6"/>
<text x="1206.5" y="30.55000000000001" font-size="13" text-anchor="start" fill="#3a3a3a" font-weight="normal"  textLength="22.799999999999997" lengthAdjust="spacingAndGlyphs">150</text>
<path d="M787 64.3 V73 H760" fill="none" stroke="#111" stroke-width="1.8"/>
<path d="M756 73 L765 69 L765 77 Z" fill="#111"/>
<path d="M1096 105.2 V110.6 H1124.9" fill="none" stroke="#111" stroke-width="1.8"/>
<path d="M1128.9 110.6 L1119.9 106.6 L1119.9 114.6 Z" fill="#111"/>
<circle cx="748" cy="128.75" r="4" fill="#2663ad"/>
<text x="760" y="133.75" font-size="14.5" text-anchor="start" fill="#3a3a3a" font-weight="normal"  textLength="21" lengthAdjust="spacingAndGlyphs">CE</text>
<circle cx="748" cy="148" r="4" fill="#cf5622"/>
<text x="760" y="153.25" font-size="14.5" text-anchor="start" fill="#3a3a3a" font-weight="normal"  textLength="22.5" lengthAdjust="spacingAndGlyphs">EE</text>
<circle cx="748" cy="166.5" r="4" fill="#e39c31"/>
<text x="760" y="171.25" font-size="14.5" text-anchor="start" fill="#3a3a3a" font-weight="normal"  textLength="108.75" lengthAdjust="spacingAndGlyphs">Energy density</text>
<text x="906.25" y="227.5" font-size="16" text-anchor="start" fill="#3a3a3a" font-weight="normal"  textLength="104" lengthAdjust="spacingAndGlyphs">Cycle number</text>
<text x="0" y="0" font-size="15" text-anchor="middle" fill="#3a3a3a" transform="translate(673.3 104.4) rotate(-90)" textLength="109" lengthAdjust="spacingAndGlyphs">Efficiencies (%)</text>
<text x="0" y="0" font-size="17.5" text-anchor="middle" fill="#3a3a3a" transform="translate(1242.5 101.5) rotate(90)" textLength="165" lengthAdjust="spacingAndGlyphs">Energy density (Wh l<tspan font-size="9" dy="-6">−1</tspan><tspan dy="6">)</tspan></text>
<clipPath id="cc"><rect x="83" y="254" width="457" height="160.25"/></clipPath>
<text x="23.5" y="261" font-size="23" text-anchor="start" fill="#111" font-weight="bold" stroke="#111" stroke-width="0.9">c</text>
<polyline points="84.0,269.8 86.0,270.2 88.0,268.0 90.0,265.2 92.0,263.4 94.0,264.5 96.0,265.0 98.0,264.1 100.0,263.4 102.0,264.7 104.0,263.8 106.0,263.4 108.0,263.2 110.0,264.6 112.0,264.7 114.0,264.3 116.0,263.9 118.0,264.1 120.0,263.4 122.0,265.0 124.0,263.7 126.0,264.3 128.0,264.7 130.0,264.7 132.0,263.9 134.0,263.5 136.0,264.1 138.0,263.2 140.0,264.7 142.0,263.7 144.0,264.8 146.0,263.5 148.0,263.7 150.0,263.5 152.0,263.8 154.0,263.3 156.0,262.9 158.0,264.5 160.0,263.5 162.0,263.4 164.0,263.6 166.0,264.0 168.0,263.8 170.0,264.7 172.0,265.1 174.0,264.8 176.0,266.4 178.0,266.6 180.0,265.2 182.0,267.3 184.0,267.8 186.0,267.9 188.0,266.9 190.0,268.8 192.0,268.7 194.0,267.7 196.0,268.1 198.0,270.5 200.0,270.2 202.0,269.7 204.0,269.7 206.0,270.2 208.0,270.7 210.0,272.8 212.0,274.2 214.0,276.1 216.0,278.9 218.0,278.6 220.0,277.3 222.0,278.9 224.0,278.2 226.0,278.6 228.0,278.4 230.0,278.9 232.0,278.6 234.0,278.7 236.0,277.3 238.0,278.4 240.0,278.1 242.0,278.5 244.0,276.9 246.0,276.1 248.0,273.5 250.0,272.1 252.0,272.3 254.0,272.3 256.0,273.4 258.0,272.7 260.0,273.8 262.0,273.3 264.0,274.4 266.0,274.6 268.0,275.0 270.0,275.9 272.0,274.3 274.0,276.4 276.0,275.8 278.0,275.8 280.0,275.3 282.0,275.1 284.0,273.4 286.0,272.8 288.0,273.3 290.0,270.7 292.0,272.8 294.0,273.8 296.0,273.3 298.0,275.5 300.0,276.3 302.0,276.5 304.0,274.9 306.0,276.0 308.0,274.6 310.0,274.2 312.0,274.7 314.0,272.5 316.0,273.7 318.0,273.1 320.0,272.1 322.0,273.0 324.0,271.7 326.0,271.7 328.0,271.5 330.0,271.8 332.0,270.3 334.0,270.5 336.0,270.7 338.0,271.2 340.0,272.1 342.0,271.3 344.0,272.7 346.0,272.1 348.0,272.6 350.0,272.4 352.0,273.2 354.0,274.5 356.0,274.1 358.0,274.7 360.0,274.0 362.0,274.3 364.0,274.5 366.0,275.4 368.0,275.6 370.0,275.9 372.0,274.3 374.0,275.8 376.0,276.1 378.0,275.4 380.0,274.3 382.0,274.9 384.0,274.2 386.0,274.6 388.0,276.2 390.0,275.5 392.0,275.6 394.0,275.9 396.0,276.2 398.0,275.5 400.0,275.6 402.0,275.6 404.0,275.7 406.0,275.5 408.0,275.7 410.0,274.7 412.0,275.7 414.0,275.2 416.0,275.8 418.0,274.2 420.0,274.3 422.0,273.9 424.0,275.5 426.0,275.7 428.0,275.0 430.0,274.3 432.0,275.2 434.0,275.1 436.0,274.5 438.0,273.8 440.0,273.8 442.0,274.0 444.0,273.7 446.0,273.8 448.0,274.2 450.0,274.8 452.0,272.8 454.0,273.8 456.0,272.6 458.0,272.7 460.0,274.8 462.0,275.0 464.0,276.4 466.0,276.0 468.0,275.7 470.0,277.1 472.0,278.2 474.0,279.6 476.0,279.7 478.0,277.9 480.0,277.0 482.0,275.6 484.0,276.1 486.0,274.5 488.0,273.6 490.0,274.1 492.0,274.8 494.0,277.1 496.0,276.6 498.0,279.2 500.0,278.1 502.0,280.6 504.0,279.7 506.0,280.2 508.0,282.5 510.0,282.2 512.0,284.1 514.0,286.9 516.0,291.9 518.0,295.4 520.0,296.3 522.0,297.6 524.0,298.4 526.0,297.6 528.0,295.8 530.0,293.1 532.0,292.3 534.0,293.8 536.0,292.8 538.0,294.8 539.0,294.5" fill="none" stroke="#2663ad" stroke-width="9" stroke-linejoin="round" stroke-linecap="butt" clip-path="url(#cc)"/>
<polyline points="84.0,287.4 86.0,287.5 88.0,289.0 90.0,289.4 92.0,287.9 94.0,288.5 96.0,289.5 98.0,288.3 100.0,289.9 102.0,289.2 104.0,288.3 106.0,289.1 108.0,289.6 110.0,289.4 112.0,290.0 114.0,288.9 116.0,290.5 118.0,289.6 120.0,290.3 122.0,290.0 124.0,289.1 126.0,288.5 128.0,288.9 130.0,288.7 132.0,287.8 134.0,286.8 136.0,286.4 138.0,286.1 140.0,288.4 142.0,288.1 144.0,288.7 146.0,287.8 148.0,288.7 150.0,289.8 152.0,289.8 154.0,289.6 156.0,289.2 158.0,289.7 160.0,291.0 162.0,290.0 164.0,290.9 166.0,290.9 168.0,291.7 170.0,291.7 172.0,290.7 174.0,290.3 176.0,291.1 178.0,291.6 180.0,292.2 182.0,292.8 184.0,293.2 186.0,291.5 188.0,293.4 190.0,293.6 192.0,293.9 194.0,293.4 196.0,292.9 198.0,294.4 200.0,294.5 202.0,294.4 204.0,295.8 206.0,295.4 208.0,295.7 210.0,297.6 212.0,299.0 214.0,298.6 216.0,300.2 218.0,300.6 220.0,299.0 222.0,299.7 224.0,299.8 226.0,299.3 228.0,298.7 230.0,298.7 232.0,299.8 234.0,299.8 236.0,299.0 238.0,298.1 240.0,299.6 242.0,299.1 244.0,297.4 246.0,297.8 248.0,298.0 250.0,297.6 252.0,296.3 254.0,295.8 256.0,295.6 258.0,294.3 260.0,294.6 262.0,294.8 264.0,296.1 266.0,295.6 268.0,296.3 270.0,296.2 272.0,296.6 274.0,296.0 276.0,296.0 278.0,298.4 280.0,297.2 282.0,296.9 284.0,297.8 286.0,297.6 288.0,295.7 290.0,296.2 292.0,296.5 294.0,297.7 296.0,297.5 298.0,298.3 300.0,301.3 302.0,301.3 304.0,300.3 306.0,300.4 308.0,299.5 310.0,300.5 312.0,299.6 314.0,300.6 316.0,300.1 318.0,300.0 320.0,300.2 322.0,298.5 324.0,297.8 326.0,298.1 328.0,297.9 330.0,297.5 332.0,297.3 334.0,298.2 336.0,298.8 338.0,297.7 340.0,299.2 342.0,299.5 344.0,298.0 346.0,299.6 348.0,299.6 350.0,299.4 352.0,301.6 354.0,300.5 356.0,301.6 358.0,302.1 360.0,303.2 362.0,303.0 364.0,302.8 366.0,303.3 368.0,302.9 370.0,304.8 372.0,304.9 374.0,303.4 376.0,303.1 378.0,303.7 380.0,304.1 382.0,305.4 384.0,305.5 386.0,305.5 388.0,303.9 390.0,305.6 392.0,305.6 394.0,305.6 396.0,306.4 398.0,304.3 400.0,304.5 402.0,305.9 404.0,306.3 406.0,305.7 408.0,304.9 410.0,305.5 412.0,305.9 414.0,304.4 416.0,304.9 418.0,304.8 420.0,304.5 422.0,305.3 424.0,304.7 426.0,305.1 428.0,305.0 430.0,306.4 432.0,305.2 434.0,306.9 436.0,306.0 438.0,305.8 440.0,308.0 442.0,306.6 444.0,308.4 446.0,308.4 448.0,308.7 450.0,307.2 452.0,308.1 454.0,307.5 456.0,309.5 458.0,309.6 460.0,309.3 462.0,309.0 464.0,308.8 466.0,309.9 468.0,309.3 470.0,309.7 472.0,308.7 474.0,308.9 476.0,308.6 478.0,310.2 480.0,309.9 482.0,309.1 484.0,310.7 486.0,309.5 488.0,310.3 490.0,310.4 492.0,311.4 494.0,313.3 496.0,312.8 498.0,313.1 500.0,314.5 502.0,314.8 504.0,316.7 506.0,315.7 508.0,318.2 510.0,317.3 512.0,320.8 514.0,321.9 516.0,322.5 518.0,324.7 520.0,325.4 522.0,326.3 524.0,327.2 526.0,328.3 528.0,327.6 530.0,325.5 532.0,324.1 534.0,322.8 536.0,323.7 538.0,325.6 539.0,324.0" fill="none" stroke="#cf5622" stroke-width="9" stroke-linejoin="round" stroke-linecap="butt" clip-path="url(#cc)"/>
<polyline points="84.0,348.0 86.0,347.2 88.0,348.2 90.0,346.6 92.0,347.8 94.0,347.0 96.0,346.6 98.0,346.3 100.0,347.5 102.0,346.9 104.0,346.3 106.0,346.6 108.0,347.3 110.0,346.1 112.0,346.6 114.0,345.8 116.0,345.8 118.0,346.7 120.0,346.5 122.0,345.6 124.0,345.4 126.0,345.3 128.0,346.0 130.0,345.8 132.0,345.4 134.0,345.3 136.0,346.1 138.0,346.5 140.0,346.8 142.0,346.6 144.0,346.1 146.0,346.0 148.0,347.3 150.0,346.9 152.0,347.5 154.0,346.6 156.0,348.0 158.0,347.4 160.0,348.3 162.0,348.5 164.0,348.1 166.0,347.5 168.0,349.1 170.0,348.5 172.0,349.3 174.0,348.5 176.0,348.5 178.0,349.7 180.0,349.1 182.0,348.9 184.0,349.4 186.0,349.9 188.0,349.1 190.0,350.1 192.0,350.2 194.0,350.4 196.0,349.9 198.0,351.0 200.0,351.4 202.0,351.6 204.0,350.9 206.0,351.7 208.0,351.3 210.0,352.0 212.0,351.1 214.0,352.5 216.0,352.7 218.0,352.0 220.0,352.0 222.0,352.0 224.0,352.0 226.0,351.2 228.0,352.7 230.0,351.5 232.0,351.4 234.0,351.2 236.0,351.5 238.0,352.4 240.0,351.1 242.0,351.2 244.0,352.1 246.0,351.3 248.0,351.0 250.0,351.9 252.0,351.9 254.0,351.8 256.0,352.1 258.0,351.1 260.0,352.3 262.0,352.0 264.0,350.9 266.0,351.1 268.0,351.6 270.0,351.6 272.0,351.3 274.0,351.0 276.0,351.4 278.0,351.0 280.0,351.7 282.0,352.1 284.0,351.0 286.0,351.6 288.0,351.9 290.0,351.0 292.0,352.0 294.0,352.2 296.0,351.3 298.0,351.3 300.0,352.0 302.0,351.5 304.0,351.2 306.0,352.1 308.0,351.8 310.0,351.1 312.0,350.9 314.0,351.1 316.0,351.2 318.0,352.1 320.0,351.8 322.0,352.0 324.0,351.8 326.0,351.9 328.0,350.6 330.0,351.3 332.0,352.0 334.0,352.0 336.0,350.9 338.0,351.2 340.0,351.5 342.0,351.1 344.0,351.3 346.0,350.6 348.0,351.2 350.0,351.4 352.0,350.7 354.0,350.9 356.0,352.3 358.0,352.1 360.0,352.4 362.0,352.0 364.0,352.3 366.0,352.5 368.0,352.6 370.0,351.3 372.0,352.3 374.0,351.8 376.0,352.5 378.0,351.9 380.0,352.4 382.0,353.1 384.0,352.7 386.0,352.1 388.0,352.6 390.0,352.6 392.0,353.5 394.0,352.5 396.0,352.6 398.0,353.2 400.0,352.4 402.0,353.2 404.0,353.8 406.0,353.1 408.0,352.7 410.0,353.1 412.0,353.2 414.0,352.6 416.0,352.6 418.0,352.6 420.0,352.9 422.0,353.1 424.0,352.9 426.0,352.9 428.0,352.7 430.0,353.4 432.0,353.9 434.0,353.6 436.0,353.5 438.0,353.7 440.0,353.0 442.0,353.8 444.0,353.4 446.0,353.6 448.0,353.7 450.0,353.5 452.0,353.3 454.0,353.2 456.0,353.2 458.0,353.7 460.0,353.5 462.0,353.9 464.0,353.0 466.0,353.5 468.0,354.4 470.0,353.4 472.0,353.9 474.0,353.8 476.0,353.5 478.0,354.7 480.0,353.6 482.0,354.4 484.0,353.4 486.0,353.3 488.0,354.9 490.0,354.5 492.0,354.2 494.0,355.0 496.0,355.4 498.0,356.1 500.0,355.4 502.0,355.9 504.0,357.4 506.0,357.3 508.0,356.7 510.0,357.3 512.0,357.6 514.0,358.9 516.0,359.8 518.0,361.1 520.0,362.0 522.0,362.5 524.0,363.9 526.0,363.8 528.0,363.7 530.0,363.1 532.0,363.5 534.0,363.2 536.0,363.4 538.0,362.1 539.0,363.2" fill="none" stroke="#e39c31" stroke-width="8.5" stroke-linejoin="round" stroke-linecap="butt" clip-path="url(#cc)"/>
<line x1="220.5" y1="255" x2="220.5" y2="375" stroke="#333" stroke-width="1.6" stroke-dasharray="4 3"/>
<path d="M83 254 H540 V414.25 H83 Z" fill="none" stroke="#111" stroke-width="1.8"/>
<line x1="83.0" y1="414.25" x2="83.0" y2="419.25" stroke="#111" stroke-width="1.6"/>
<text x="83.0" y="436.25" font-size="13" text-anchor="middle" fill="#3a3a3a" font-weight="normal"  textLength="7.9" lengthAdjust="spacingAndGlyphs">0</text>
<line x1="174.4" y1="414.25" x2="174.4" y2="419.25" stroke="#111" stroke-width="1.6"/>
<text x="174.4" y="436.25" font-size="13" text-anchor="middle" fill="#3a3a3a" font-weight="normal"  textLength="15.8" lengthAdjust="spacingAndGlyphs">20</text>
<line x1="265.8" y1="414.25" x2="265.8" y2="419.25" stroke="#111" stroke-width="1.6"/>
<text x="265.8" y="436.25" font-size="13" text-anchor="middle" fill="#3a3a3a" font-weight="normal"  textLength="15.8" lengthAdjust="spacingAndGlyphs">40</text>
<line x1="357.20000000000005" y1="414.25" x2="357.20000000000005" y2="419.25" stroke="#111" stroke-width="1.6"/>
<text x="357.20000000000005" y="436.25" font-size="13" text-anchor="middle" fill="#3a3a3a" font-weight="normal"  textLength="15.8" lengthAdjust="spacingAndGlyphs">60</text>
<line x1="448.6" y1="414.25" x2="448.6" y2="419.25" stroke="#111" stroke-width="1.6"/>
<text x="448.6" y="436.25" font-size="13" text-anchor="middle" fill="#3a3a3a" font-weight="normal"  textLength="15.8" lengthAdjust="spacingAndGlyphs">80</text>
<line x1="540.0" y1="414.25" x2="540.0" y2="419.25" stroke="#111" stroke-width="1.6"/>
<text x="540.0" y="436.25" font-size="13" text-anchor="middle" fill="#3a3a3a" font-weight="normal"  textLength="23.700000000000003" lengthAdjust="spacingAndGlyphs">100</text>
<line x1="77" y1="414.25" x2="83" y2="414.25" stroke="#111" stroke-width="1.6"/>
<text x="68.5" y="418.75" font-size="13" text-anchor="end" fill="#3a3a3a" font-weight="normal"  textLength="7.4" lengthAdjust="spacingAndGlyphs">0</text>
<line x1="77" y1="383.75" x2="83" y2="383.75" stroke="#111" stroke-width="1.6"/>
<text x="68.5" y="388.25" font-size="13" text-anchor="end" fill="#3a3a3a" font-weight="normal"  textLength="14.8" lengthAdjust="spacingAndGlyphs">20</text>
<line x1="77" y1="353.25" x2="83" y2="353.25" stroke="#111" stroke-width="1.6"/>
<text x="68.5" y="357.75" font-size="13" text-anchor="end" fill="#3a3a3a" font-weight="normal"  textLength="14.8" lengthAdjust="spacingAndGlyphs">40</text>
<line x1="77" y1="322.75" x2="83" y2="322.75" stroke="#111" stroke-width="1.6"/>
<text x="68.5" y="327.25" font-size="13" text-anchor="end" fill="#3a3a3a" font-weight="normal"  textLength="14.8" lengthAdjust="spacingAndGlyphs">60</text>
<line x1="77" y1="292.25" x2="83" y2="292.25" stroke="#111" stroke-width="1.6"/>
<text x="68.5" y="296.75" font-size="13" text-anchor="end" fill="#3a3a3a" font-weight="normal"  textLength="14.8" lengthAdjust="spacingAndGlyphs">80</text>
<line x1="77" y1="261.75" x2="83" y2="261.75" stroke="#111" stroke-width="1.6"/>
<text x="68.5" y="266.25" font-size="13" text-anchor="end" fill="#3a3a3a" font-weight="normal"  textLength="22.200000000000003" lengthAdjust="spacingAndGlyphs">100</text>
<line x1="540" y1="414.25" x2="546" y2="414.25" stroke="#111" stroke-width="1.6"/>
<text x="553" y="418.75" font-size="13" text-anchor="start" fill="#3a3a3a" font-weight="normal"  textLength="7.6" lengthAdjust="spacingAndGlyphs">0</text>
<line x1="540" y1="382.25" x2="546" y2="382.25" stroke="#111" stroke-width="1.6"/>
<text x="553" y="386.75" font-size="13" text-anchor="start" fill="#3a3a3a" font-weight="normal"  textLength="15.2" lengthAdjust="spacingAndGlyphs">20</text>
<line x1="540" y1="350.25" x2="546" y2="350.25" stroke="#111" stroke-width="1.6"/>
<text x="553" y="354.75" font-size="13" text-anchor="start" fill="#3a3a3a" font-weight="normal"  textLength="15.2" lengthAdjust="spacingAndGlyphs">40</text>
<line x1="540" y1="318.25" x2="546" y2="318.25" stroke="#111" stroke-width="1.6"/>
<text x="553" y="322.75" font-size="13" text-anchor="start" fill="#3a3a3a" font-weight="normal"  textLength="15.2" lengthAdjust="spacingAndGlyphs">60</text>
<line x1="540" y1="286.25" x2="546" y2="286.25" stroke="#111" stroke-width="1.6"/>
<text x="553" y="290.75" font-size="13" text-anchor="start" fill="#3a3a3a" font-weight="normal"  textLength="15.2" lengthAdjust="spacingAndGlyphs">80</text>
<line x1="540" y1="254.25" x2="546" y2="254.25" stroke="#111" stroke-width="1.6"/>
<text x="553" y="258.75" font-size="13" text-anchor="start" fill="#3a3a3a" font-weight="normal"  textLength="22.799999999999997" lengthAdjust="spacingAndGlyphs">100</text>
<path d="M150 296 V304.5 H99" fill="none" stroke="#111" stroke-width="1.8"/>
<path d="M95 304.5 L104 300.5 L104 308.5 Z" fill="#111"/>
<path d="M486 360 V376.75 H524.75" fill="none" stroke="#111" stroke-width="1.8"/>
<path d="M528.75 376.75 L519.75 372.75 L519.75 380.75 Z" fill="#111"/>
<text x="226.25" y="342.5" font-size="15.5" text-anchor="start" fill="#3a3a3a" font-weight="normal"  textLength="294" lengthAdjust="spacingAndGlyphs">Traditional Zn/Br with SPEEK membrane</text>
<rect x="96.85" y="360.0" width="7.5" height="7.5" rx="2.3" fill="#2663ad"/>
<text x="112.5" y="368.75" font-size="14.5" text-anchor="start" fill="#3a3a3a" font-weight="normal"  textLength="21" lengthAdjust="spacingAndGlyphs">CE</text>
<rect x="96.85" y="379.75" width="7.5" height="7.5" rx="2.3" fill="#cf5622"/>
<text x="112.5" y="388.75" font-size="14.5" text-anchor="start" fill="#3a3a3a" font-weight="normal"  textLength="22.5" lengthAdjust="spacingAndGlyphs">EE</text>
<rect x="96.85" y="398.25" width="7.5" height="7.5" rx="2.3" fill="#e39c31"/>
<text x="112.5" y="406.25" font-size="14.5" text-anchor="start" fill="#3a3a3a" font-weight="normal"  textLength="108.75" lengthAdjust="spacingAndGlyphs">Energy density</text>
<text x="260" y="458" font-size="16" text-anchor="start" fill="#3a3a3a" font-weight="normal"  textLength="102.5" lengthAdjust="spacingAndGlyphs">Cycle number</text>
<text x="0" y="0" font-size="15" text-anchor="middle" fill="#3a3a3a" transform="translate(33.8 334) rotate(-90)" textLength="108" lengthAdjust="spacingAndGlyphs">Efficiencies (%)</text>
<text x="0" y="0" font-size="17.5" text-anchor="middle" fill="#3a3a3a" transform="translate(588.5 332.2) rotate(90)" textLength="162" lengthAdjust="spacingAndGlyphs">Energy density (Wh l<tspan font-size="9" dy="-6">−1</tspan><tspan dy="6">)</tspan></text>
<text x="659" y="261.3" font-size="23" text-anchor="start" fill="#111" font-weight="bold" stroke="#111" stroke-width="0.9">d</text>
<path d="M728.75 252.5 H1191.25 V413.25 H728.75 Z" fill="none" stroke="#111" stroke-width="1.8"/>
<line x1="728.75" y1="413.25" x2="728.75" y2="418.25" stroke="#111" stroke-width="1.6"/>
<text x="728.75" y="434.25" font-size="13" text-anchor="middle" fill="#3a3a3a" font-weight="normal"  textLength="7.9" lengthAdjust="spacingAndGlyphs">0</text>
<line x1="801.65" y1="413.25" x2="801.65" y2="418.25" stroke="#111" stroke-width="1.6"/>
<text x="801.65" y="434.25" font-size="13" text-anchor="middle" fill="#3a3a3a" font-weight="normal"  textLength="7.9" lengthAdjust="spacingAndGlyphs">6</text>
<line x1="874.55" y1="413.25" x2="874.55" y2="418.25" stroke="#111" stroke-width="1.6"/>
<text x="874.55" y="434.25" font-size="13" text-anchor="middle" fill="#3a3a3a" font-weight="normal"  textLength="15.8" lengthAdjust="spacingAndGlyphs">12</text>
<line x1="947.45" y1="413.25" x2="947.45" y2="418.25" stroke="#111" stroke-width="1.6"/>
<text x="947.45" y="434.25" font-size="13" text-anchor="middle" fill="#3a3a3a" font-weight="normal"  textLength="15.8" lengthAdjust="spacingAndGlyphs">18</text>
<line x1="1020.35" y1="413.25" x2="1020.35" y2="418.25" stroke="#111" stroke-width="1.6"/>
<text x="1020.35" y="434.25" font-size="13" text-anchor="middle" fill="#3a3a3a" font-weight="normal"  textLength="15.8" lengthAdjust="spacingAndGlyphs">24</text>
<line x1="1093.25" y1="413.25" x2="1093.25" y2="418.25" stroke="#111" stroke-width="1.6"/>
<text x="1093.25" y="434.25" font-size="13" text-anchor="middle" fill="#3a3a3a" font-weight="normal"  textLength="15.8" lengthAdjust="spacingAndGlyphs">30</text>
<line x1="1166.15" y1="413.25" x2="1166.15" y2="418.25" stroke="#111" stroke-width="1.6"/>
<text x="1166.15" y="434.25" font-size="13" text-anchor="middle" fill="#3a3a3a" font-weight="normal"  textLength="15.8" lengthAdjust="spacingAndGlyphs">36</text>
<line x1="722.75" y1="413.25" x2="728.75" y2="413.25" stroke="#111" stroke-width="1.6"/>
<text x="717.25" y="417.75" font-size="13" text-anchor="end" fill="#3a3a3a" font-weight="normal"  textLength="7.4" lengthAdjust="spacingAndGlyphs">0</text>
<line x1="722.75" y1="382.65" x2="728.75" y2="382.65" stroke="#111" stroke-width="1.6"/>
<text x="717.25" y="387.15" font-size="13" text-anchor="end" fill="#3a3a3a" font-weight="normal"  textLength="14.8" lengthAdjust="spacingAndGlyphs">20</text>
<line x1="722.75" y1="352.05" x2="728.75" y2="352.05" stroke="#111" stroke-width="1.6"/>
<text x="717.25" y="356.55" font-size="13" text-anchor="end" fill="#3a3a3a" font-weight="normal"  textLength="14.8" lengthAdjust="spacingAndGlyphs">40</text>
<line x1="722.75" y1="321.45" x2="728.75" y2="321.45" stroke="#111" stroke-width="1.6"/>
<text x="717.25" y="325.95" font-size="13" text-anchor="end" fill="#3a3a3a" font-weight="normal"  textLength="14.8" lengthAdjust="spacingAndGlyphs">60</text>
<line x1="722.75" y1="290.85" x2="728.75" y2="290.85" stroke="#111" stroke-width="1.6"/>
<text x="717.25" y="295.35" font-size="13" text-anchor="end" fill="#3a3a3a" font-weight="normal"  textLength="14.8" lengthAdjust="spacingAndGlyphs">80</text>
<line x1="722.75" y1="260.25" x2="728.75" y2="260.25" stroke="#111" stroke-width="1.6"/>
<text x="717.25" y="264.75" font-size="13" text-anchor="end" fill="#3a3a3a" font-weight="normal"  textLength="22.200000000000003" lengthAdjust="spacingAndGlyphs">100</text>
<line x1="729.75" y1="413.5" x2="1191.25" y2="413.5" stroke="#7b7b7b" stroke-width="3"/>
<rect x="736.1" y="272.0" width="9.6" height="14.0" rx="4.3" fill="#e8962f"/>
<path d="M736.1 274.5 h9.6 v4.0 h-9.6 Z" fill="#c9642a" opacity="0.70"/>
<polygon points="740.9,271.8 736.6,269.3 736.6,264.3 740.9,261.8 745.2,264.3 745.2,269.3" fill="#2663ad"/>
<rect x="748.2" y="272.8" width="9.6" height="14.0" rx="4.3" fill="#e8962f"/>
<path d="M748.2 275.3 h9.6 v4.0 h-9.6 Z" fill="#c9642a" opacity="0.35"/>
<polygon points="753.0,270.2 748.7,267.7 748.7,262.7 753.0,260.2 757.4,262.7 757.4,267.7" fill="#2663ad"/>
<rect x="760.4" y="273.6" width="9.6" height="14.0" rx="4.3" fill="#e8962f"/>
<path d="M760.4 276.1 h9.6 v4.0 h-9.6 Z" fill="#c9642a" opacity="0.35"/>
<polygon points="765.2,270.6 760.9,268.1 760.9,263.1 765.2,260.6 769.5,263.1 769.5,268.1" fill="#2663ad"/>
<rect x="772.6" y="274.4" width="9.6" height="14.0" rx="4.3" fill="#e8962f"/>
<path d="M772.6 276.9 h9.6 v4.0 h-9.6 Z" fill="#c9642a" opacity="0.35"/>
<polygon points="777.4,270.6 773.0,268.1 773.0,263.1 777.4,260.6 781.7,263.1 781.7,268.1" fill="#2663ad"/>
<rect x="784.7" y="275.2" width="9.6" height="14.0" rx="4.3" fill="#e8962f"/>
<path d="M784.7 277.7 h9.6 v4.0 h-9.6 Z" fill="#c9642a" opacity="0.35"/>
<polygon points="789.5,271.0 785.2,268.5 785.2,263.5 789.5,261.0 793.8,263.5 793.8,268.5" fill="#2663ad"/>
<rect x="796.9" y="276.0" width="9.6" height="14.0" rx="4.3" fill="#e8962f"/>
<path d="M796.9 278.5 h9.6 v4.0 h-9.6 Z" fill="#c9642a" opacity="0.35"/>
<polygon points="801.6,270.6 797.3,268.1 797.3,263.1 801.6,260.6 806.0,263.1 806.0,268.1" fill="#2663ad"/>
<rect x="809.0" y="285.5" width="9.6" height="11.5" rx="4.3" fill="#e8962f"/>
<polygon points="813.8,268.7 809.5,266.2 809.5,261.2 813.8,258.7 818.1,261.2 818.1,266.2" fill="#2663ad"/>
<rect x="821.2" y="285.5" width="9.6" height="11.5" rx="4.3" fill="#e8962f"/>
<polygon points="826.0,268.7 821.6,266.2 821.6,261.2 826.0,258.7 830.3,261.2 830.3,266.2" fill="#2663ad"/>
<rect x="833.3" y="285.5" width="9.6" height="11.5" rx="4.3" fill="#e8962f"/>
<polygon points="838.1,268.7 833.8,266.2 833.8,261.2 838.1,258.7 842.4,261.2 842.4,266.2" fill="#2663ad"/>
<rect x="845.5" y="285.5" width="9.6" height="11.5" rx="4.3" fill="#e8962f"/>
<polygon points="850.2,268.7 845.9,266.2 845.9,261.2 850.2,258.7 854.6,261.2 854.6,266.2" fill="#2663ad"/>
<rect x="857.6" y="285.5" width="9.6" height="11.5" rx="4.3" fill="#e8962f"/>
<polygon points="862.4,268.7 858.1,266.2 858.1,261.2 862.4,258.7 866.7,261.2 866.7,266.2" fill="#2663ad"/>
<rect x="869.8" y="285.5" width="9.6" height="11.5" rx="4.3" fill="#e8962f"/>
<polygon points="874.5,268.7 870.2,266.2 870.2,261.2 874.5,258.7 878.9,261.2 878.9,266.2" fill="#2663ad"/>
<rect x="881.9" y="292.2" width="9.6" height="11.2" rx="4.3" fill="#e8962f"/>
<polygon points="886.7,268.1 882.4,265.6 882.4,260.6 886.7,258.1 891.0,260.6 891.0,265.6" fill="#2663ad"/>
<rect x="894.1" y="292.2" width="9.6" height="11.2" rx="4.3" fill="#e8962f"/>
<polygon points="898.9,268.1 894.5,265.6 894.5,260.6 898.9,258.1 903.2,260.6 903.2,265.6" fill="#2663ad"/>
<rect x="906.2" y="292.2" width="9.6" height="11.2" rx="4.3" fill="#e8962f"/>
<polygon points="911.0,268.1 906.7,265.6 906.7,260.6 911.0,258.1 915.3,260.6 915.3,265.6" fill="#2663ad"/>
<rect x="918.4" y="292.2" width="9.6" height="11.2" rx="4.3" fill="#e8962f"/>
<polygon points="923.1,268.1 918.8,265.6 918.8,260.6 923.1,258.1 927.5,260.6 927.5,265.6" fill="#2663ad"/>
<rect x="930.5" y="292.2" width="9.6" height="11.2" rx="4.3" fill="#e8962f"/>
<polygon points="935.3,268.1 931.0,265.6 931.0,260.6 935.3,258.1 939.6,260.6 939.6,265.6" fill="#2663ad"/>
<rect x="942.7" y="292.2" width="9.6" height="11.2" rx="4.3" fill="#e8962f"/>
<polygon points="947.5,268.1 943.1,265.6 943.1,260.6 947.5,258.1 951.8,260.6 951.8,265.6" fill="#2663ad"/>
<rect x="954.8" y="297.5" width="9.6" height="10.2" rx="4.3" fill="#e8962f"/>
<polygon points="959.6,268.1 955.3,265.6 955.3,260.6 959.6,258.1 963.9,260.6 963.9,265.6" fill="#2663ad"/>
<rect x="967.0" y="297.5" width="9.6" height="10.2" rx="4.3" fill="#e8962f"/>
<polygon points="971.8,268.1 967.4,265.6 967.4,260.6 971.8,258.1 976.1,260.6 976.1,265.6" fill="#2663ad"/>
<rect x="979.1" y="297.5" width="9.6" height="10.2" rx="4.3" fill="#e8962f"/>
<polygon points="983.9,268.1 979.6,265.6 979.6,260.6 983.9,258.1 988.2,260.6 988.2,265.6" fill="#2663ad"/>
<rect x="991.2" y="297.5" width="9.6" height="10.2" rx="4.3" fill="#e8962f"/>
<polygon points="996.0,268.1 991.7,265.6 991.7,260.6 996.0,258.1 1000.4,260.6 1000.4,265.6" fill="#2663ad"/>
<rect x="1003.4" y="297.5" width="9.6" height="10.2" rx="4.3" fill="#e8962f"/>
<polygon points="1008.2,267.7 1003.9,265.2 1003.9,260.2 1008.2,257.7 1012.5,260.2 1012.5,265.2" fill="#2663ad"/>
<rect x="1015.6" y="297.5" width="9.6" height="10.2" rx="4.3" fill="#e8962f"/>
<polygon points="1020.4,267.7 1016.0,265.2 1016.0,260.2 1020.4,257.7 1024.7,260.2 1024.7,265.2" fill="#2663ad"/>
<rect x="1027.7" y="302.0" width="9.6" height="11.3" rx="4.3" fill="#e8962f"/>
<polygon points="1032.5,267.7 1028.2,265.2 1028.2,260.2 1032.5,257.7 1036.8,260.2 1036.8,265.2" fill="#2663ad"/>
<rect x="1039.9" y="302.0" width="9.6" height="11.3" rx="4.3" fill="#e8962f"/>
<polygon points="1044.7,267.7 1040.3,265.2 1040.3,260.2 1044.7,257.7 1049.0,260.2 1049.0,265.2" fill="#2663ad"/>
<rect x="1052.0" y="302.0" width="9.6" height="11.3" rx="4.3" fill="#e8962f"/>
<polygon points="1056.8,267.7 1052.5,265.2 1052.5,260.2 1056.8,257.7 1061.1,260.2 1061.1,265.2" fill="#2663ad"/>
<rect x="1064.2" y="302.0" width="9.6" height="11.3" rx="4.3" fill="#e8962f"/>
<polygon points="1069.0,267.7 1064.6,265.2 1064.6,260.2 1069.0,257.7 1073.3,260.2 1073.3,265.2" fill="#2663ad"/>
<rect x="1076.3" y="302.0" width="9.6" height="11.3" rx="4.3" fill="#e8962f"/>
<polygon points="1081.1,267.7 1076.8,265.2 1076.8,260.2 1081.1,257.7 1085.4,260.2 1085.4,265.2" fill="#2663ad"/>
<rect x="1088.5" y="302.0" width="9.6" height="11.3" rx="4.3" fill="#e8962f"/>
<polygon points="1093.2,267.7 1088.9,265.2 1088.9,260.2 1093.2,257.7 1097.6,260.2 1097.6,265.2" fill="#2663ad"/>
<rect x="1100.6" y="276.0" width="9.6" height="14.0" rx="4.3" fill="#e8962f"/>
<polygon points="1105.4,270.5 1101.1,268.0 1101.1,263.0 1105.4,260.5 1109.7,263.0 1109.7,268.0" fill="#2663ad"/>
<rect x="1112.8" y="276.0" width="9.6" height="14.0" rx="4.3" fill="#e8962f"/>
<polygon points="1117.5,270.5 1113.2,268.0 1113.2,263.0 1117.5,260.5 1121.9,263.0 1121.9,268.0" fill="#2663ad"/>
<rect x="1124.9" y="276.0" width="9.6" height="14.0" rx="4.3" fill="#e8962f"/>
<polygon points="1129.7,270.5 1125.4,268.0 1125.4,263.0 1129.7,260.5 1134.0,263.0 1134.0,268.0" fill="#2663ad"/>
<rect x="1137.0" y="276.0" width="9.6" height="14.0" rx="4.3" fill="#e8962f"/>
<polygon points="1141.8,270.5 1137.5,268.0 1137.5,263.0 1141.8,260.5 1146.2,263.0 1146.2,268.0" fill="#2663ad"/>
<rect x="1149.2" y="276.0" width="9.6" height="14.0" rx="4.3" fill="#e8962f"/>
<polygon points="1154.0,270.5 1149.7,268.0 1149.7,263.0 1154.0,260.5 1158.3,263.0 1158.3,268.0" fill="#2663ad"/>
<rect x="1161.4" y="276.0" width="9.6" height="14.0" rx="4.3" fill="#e8962f"/>
<polygon points="1166.2,270.5 1161.8,268.0 1161.8,263.0 1166.2,260.5 1170.5,263.0 1170.5,268.0" fill="#2663ad"/>
<polygon points="755.7,351.9 751.2,349.4 751.2,344.1 755.7,341.6 760.2,344.1 760.2,349.4" fill="#2663ad"/>
<text x="768" y="352" font-size="14.5" text-anchor="start" fill="#3a3a3a" font-weight="normal"  textLength="20" lengthAdjust="spacingAndGlyphs">CE</text>
<polygon points="755.7,370.9 751.2,368.4 751.2,363.1 755.7,360.6 760.2,363.1 760.2,368.4" fill="#c8612c"/>
<text x="768" y="370.75" font-size="14.5" text-anchor="start" fill="#3a3a3a" font-weight="normal"  textLength="20" lengthAdjust="spacingAndGlyphs">VE</text>
<circle cx="755.7" cy="384.25" r="5" fill="#e89a30"/>
<text x="768" y="389.25" font-size="14.5" text-anchor="start" fill="#3a3a3a" font-weight="normal"  textLength="20" lengthAdjust="spacingAndGlyphs">EE</text>
<text x="773" y="302.5" font-size="15.5" text-anchor="middle" fill="#3a3a3a" font-weight="normal" >20</text>
<text x="843" y="313.25" font-size="15.5" text-anchor="middle" fill="#3a3a3a" font-weight="normal" >40</text>
<text x="919.75" y="318.75" font-size="15.5" text-anchor="middle" fill="#3a3a3a" font-weight="normal" >60</text>
<text x="990.6" y="324.5" font-size="15.5" text-anchor="middle" fill="#3a3a3a" font-weight="normal" >80</text>
<text x="1063" y="330" font-size="15.5" text-anchor="middle" fill="#3a3a3a" font-weight="normal" >100</text>
<text x="1140.6" y="307.5" font-size="15.5" text-anchor="middle" fill="#3a3a3a" font-weight="normal" >20</text>
<text x="1113.75" y="326.25" font-size="15.5" text-anchor="start" fill="#3a3a3a" font-weight="normal"  textLength="62" lengthAdjust="spacingAndGlyphs">mA cm<tspan font-size="9" dy="-6">−2</tspan></text>
<text x="908" y="456.25" font-size="16" text-anchor="start" fill="#3a3a3a" font-weight="normal"  textLength="103" lengthAdjust="spacingAndGlyphs">Cycle number</text>
<text x="0" y="0" font-size="15" text-anchor="middle" fill="#3a3a3a" transform="translate(681.6 331) rotate(-90)" textLength="105.5" lengthAdjust="spacingAndGlyphs">Efficiencies (%)</text>
<!-- panel e -->
<text x="23.5" y="502.6" font-size="23" font-weight="bold" fill="#111" stroke="#111" stroke-width="0.9">e</text>
<defs>
<linearGradient id="gWhiteCab" x1="0" x2="0" y1="0" y2="1"><stop offset="0" stop-color="#f4f4f4"/><stop offset="0.6" stop-color="#e9e9e9"/><stop offset="1" stop-color="#d9d9d9"/></linearGradient>
<linearGradient id="gWhiteCabH" x1="0" x2="1" y1="0" y2="0"><stop offset="0" stop-color="#e6e6e6"/><stop offset="0.5" stop-color="#f3f3f3"/><stop offset="1" stop-color="#dedede"/></linearGradient>
<linearGradient id="gOrange" x1="0" x2="0" y1="0" y2="1"><stop offset="0" stop-color="#ec7628"/><stop offset="1" stop-color="#f48a30"/></linearGradient>
<linearGradient id="gOrangeBar" x1="0" x2="1" y1="0" y2="0"><stop offset="0" stop-color="#ee7e30"/><stop offset="0.5" stop-color="#f79a45"/><stop offset="1" stop-color="#ec7a2c"/></linearGradient>
<linearGradient id="gTank" x1="0" x2="1"><stop offset="0" stop-color="#8e969d"/><stop offset="0.13" stop-color="#c3ccd4"/><stop offset="0.5" stop-color="#d5dee6"/><stop offset="1" stop-color="#cbd4dc"/></linearGradient>
<linearGradient id="gTankTop" x1="0" x2="1" y1="0" y2="0"><stop offset="0" stop-color="#bdbdbd"/><stop offset="0.15" stop-color="#e6e6e6"/><stop offset="0.6" stop-color="#f0f0f0"/><stop offset="1" stop-color="#e8e8e8"/></linearGradient>
<linearGradient id="gRightWall" x1="0" x2="1"><stop offset="0" stop-color="#b8b8b8"/><stop offset="1" stop-color="#d6d6d6"/></linearGradient>
<pattern id="pPerf" width="8" height="8" patternUnits="userSpaceOnUse" x="216" y="656"><rect width="8" height="8" fill="#4c4c4c"/><rect x="2.5" y="2.5" width="3.2" height="3.2" fill="#161616"/></pattern>
<pattern id="pStreak" width="13" height="110" patternUnits="userSpaceOnUse" x="328" y="530"><rect width="13" height="110" fill="#74787b"/><rect x="1" width="1.6" height="110" fill="#5a5d60"/><rect x="5" width="1.2" height="110" fill="#8c9093"/><rect x="8.5" width="1.5" height="80" fill="#62666a"/><rect x="11" y="30" width="1" height="80" fill="#92969a"/></pattern>
</defs>
<!-- labels -->
<rect x="104" y="491" width="105" height="21" fill="#e6e7e9"/>
<text x="157" y="506" font-size="12.5" text-anchor="middle" fill="#2a2a2a" stroke="#2a2a2a" stroke-width="0.5" textLength="28" lengthAdjust="spacingAndGlyphs">BMS</text>
<rect x="380" y="491" width="106" height="21" fill="#e6e7e9"/>
<text x="432" y="506" font-size="12.5" text-anchor="middle" fill="#2a2a2a" stroke="#2a2a2a" stroke-width="0.5" textLength="35" lengthAdjust="spacingAndGlyphs">Stack</text>
<!-- red pipes -->
<path d="M194 522 V503 Q194 498 199 498 H398 Q403.5 498 403.5 503 V516" fill="none" stroke="#d5553b" stroke-width="4"/>
<path d="M227 523 V522 Q227 518 231 518 H292" fill="none" stroke="#d5553b" stroke-width="4"/>
<rect x="285" y="514" width="12" height="8" rx="1" fill="#d88a3a"/>
<rect x="396" y="514" width="14" height="11" rx="1" fill="#d8853a"/>
<!-- BMS cabinet -->
<rect x="121" y="521" width="112" height="122.5" fill="#f6f6f6"/>
<rect x="121" y="521" width="58.5" height="122.5" fill="url(#gWhiteCabH)"/>
<rect x="121" y="521" width="112" height="4" fill="#e3e3e3"/>
<rect x="121" y="530" width="58.5" height="10.5" fill="url(#gOrangeBar)"/>
<rect x="136" y="552" width="27" height="31" fill="#b5b5b5"/>
<rect x="139" y="555.5" width="21" height="24" fill="#d6d6d6"/>
<ellipse cx="149.3" cy="607" rx="8.5" ry="7" fill="#cc2a1c"/>
<rect x="145" y="622.7" width="10" height="5.5" fill="#333"/>
<rect x="184" y="533" width="45.5" height="98" fill="#cdcdcd"/>
<g stroke="#ececec" stroke-width="1.2">
<line x1="199" y1="533" x2="199" y2="631"/><line x1="214" y1="533" x2="214" y2="631"/>
<line x1="184" y1="550" x2="229.5" y2="550"/><line x1="184" y1="566" x2="229.5" y2="566"/><line x1="184" y1="583" x2="229.5" y2="583"/><line x1="184" y1="599" x2="229.5" y2="599"/><line x1="184" y1="615" x2="229.5" y2="615"/>
</g>
<g fill="#6a3434">
<rect x="203" y="543" width="2.5" height="2.5"/><rect x="208" y="543" width="2.5" height="2.5"/><rect x="222" y="543" width="2.5" height="2.5"/>
<rect x="192" y="559" width="2.5" height="2.5"/><rect x="203" y="559" width="2.5" height="2.5"/><rect x="208" y="559" width="2.5" height="2.5"/><rect x="222" y="559" width="2.5" height="2.5"/>
<rect x="192" y="576" width="2.5" height="2.5"/><rect x="203" y="576" width="2.5" height="2.5"/><rect x="208" y="576" width="2.5" height="2.5"/><rect x="222" y="576" width="2.5" height="2.5"/>
<rect x="192" y="592" width="2.5" height="2.5"/><rect x="203" y="592" width="2.5" height="2.5"/><rect x="208" y="592" width="2.5" height="2.5"/>
<rect x="192" y="608" width="2.5" height="2.5"/><rect x="203" y="608" width="2.5" height="2.5"/><rect x="208" y="608" width="2.5" height="2.5"/><rect x="222" y="608" width="2.5" height="2.5"/>
<rect x="192" y="624" width="2.5" height="2.5"/><rect x="203" y="624" width="2.5" height="2.5"/><rect x="208" y="624" width="2.5" height="2.5"/><rect x="222" y="624" width="2.5" height="2.5"/>
</g>
<!-- endplate 2 (behind) -->
<rect x="372" y="521.4" width="73" height="122.5" rx="4" fill="url(#gOrange)"/>
<rect x="438" y="524" width="7" height="118" fill="#f39440"/>
<!-- stack -->
<rect x="328.5" y="530" width="98.5" height="108" fill="#707477"/>
<rect x="328.5" y="557.5" width="1.2" height="80.5" fill="rgb(122,125,127)"/>
<rect x="331.0" y="530.0" width="1.9" height="108.0" fill="rgb(141,144,146)"/>
<rect x="333.5" y="530.0" width="2.1" height="108.0" fill="rgb(122,125,127)"/>
<rect x="337.0" y="557.8" width="1.1" height="79.8" fill="rgb(128,131,133)"/>
<rect x="339.7" y="553.4" width="1.1" height="84.6" fill="rgb(125,128,130)"/>
<rect x="341.5" y="553.6" width="1.9" height="84.4" fill="rgb(144,147,149)"/>
<rect x="345.0" y="530.0" width="1.8" height="103.9" fill="rgb(96,99,101)"/>
<rect x="347.5" y="530.0" width="2.5" height="108.0" fill="rgb(115,118,120)"/>
<rect x="351.0" y="547.6" width="2.3" height="90.4" fill="rgb(124,127,129)"/>
<rect x="355.2" y="530.0" width="2.0" height="108.0" fill="rgb(89,92,94)"/>
<rect x="358.6" y="546.3" width="1.1" height="91.7" fill="rgb(143,146,148)"/>
<rect x="360.2" y="530.0" width="2.0" height="108.0" fill="rgb(128,131,133)"/>
<rect x="363.0" y="530.0" width="0.9" height="108.0" fill="rgb(142,145,147)"/>
<rect x="364.8" y="538.8" width="0.9" height="99.2" fill="rgb(145,148,150)"/>
<rect x="367.5" y="530.0" width="0.9" height="90.4" fill="rgb(127,130,132)"/>
<rect x="369.6" y="530.0" width="2.5" height="108.0" fill="rgb(105,108,110)"/>
<rect x="372.9" y="530.0" width="0.9" height="108.0" fill="rgb(126,129,131)"/>
<rect x="375.8" y="531.3" width="1.3" height="106.7" fill="rgb(104,107,109)"/>
<rect x="377.9" y="530.0" width="2.5" height="81.9" fill="rgb(145,148,150)"/>
<rect x="381.4" y="530.0" width="2.4" height="108.0" fill="rgb(131,134,136)"/>
<rect x="385.7" y="530.0" width="1.7" height="108.0" fill="rgb(115,118,120)"/>
<rect x="389.3" y="530.0" width="1.6" height="108.0" fill="rgb(104,107,109)"/>
<rect x="391.2" y="541.3" width="1.5" height="96.7" fill="rgb(125,128,130)"/>
<rect x="393.2" y="530.0" width="1.9" height="108.0" fill="rgb(109,112,114)"/>
<rect x="396.1" y="530.0" width="2.1" height="108.0" fill="rgb(135,138,140)"/>
<rect x="400.1" y="543.7" width="0.8" height="94.3" fill="rgb(111,114,116)"/>
<rect x="401.8" y="530.0" width="1.5" height="108.0" fill="rgb(108,111,113)"/>
<rect x="404.0" y="530.0" width="2.2" height="90.9" fill="rgb(94,97,99)"/>
<rect x="407.7" y="530.0" width="1.4" height="98.2" fill="rgb(102,105,107)"/>
<rect x="410.5" y="539.7" width="2.0" height="73.3" fill="rgb(94,97,99)"/>
<rect x="413.6" y="552.3" width="2.3" height="68.7" fill="rgb(98,101,103)"/>
<rect x="416.7" y="530.0" width="2.2" height="83.8" fill="rgb(90,93,95)"/>
<rect x="420.6" y="554.8" width="1.1" height="64.6" fill="rgb(105,108,110)"/>
<rect x="423.0" y="530.0" width="1.6" height="97.6" fill="rgb(121,124,126)"/>
<rect x="425.6" y="542.4" width="1.6" height="81.3" fill="rgb(114,117,119)"/>
<path d="M424 530 Q429 560 425 590 Q430 615 426 638" fill="none" stroke="#5a5e62" stroke-width="2"/>
<!-- endplate 1 -->
<rect x="255" y="521.4" width="73" height="123" rx="4" fill="url(#gOrange)"/>
<rect x="318" y="524" width="10" height="118" fill="#f39038"/>
<!-- black pipes -->
<path d="M244 643 V545 Q244 541 248 541 H274" fill="none" stroke="#2a2a2a" stroke-width="8.5" stroke-linecap="round"/>
<path d="M446 539.5 H462 Q467 539.5 467 544 V643" fill="none" stroke="#2a2a2a" stroke-width="8.5"/>
<path d="M446 558 H454 Q457 563 454 569 H446 Z" fill="#c8cacc" stroke="#333" stroke-width="1.3"/>
<path d="M446 588 H456 V598 H446 Z" fill="#d0d2d4" stroke="#444" stroke-width="1.2"/>
<rect x="446" y="600" width="12" height="22" fill="#d4d5d6"/>
<rect x="450" y="614" width="7" height="30" fill="#2e2e2e"/>
<!-- knobs -->
<path d="M286 554.5 A10.5 10.5 0 1 1 286 575.5 L264 573 Q259 572 259 565 Q259 558 264 557 Z" fill="#1a1a1a"/>
<path d="M263 559 L286 558.5 Q292 560 292 565 Q292 570 286 571.5 L263 571 Q261 565 263 559 Z" fill="#c9ccd1"/>
<path d="M266 565 H288" stroke="#6a6e74" stroke-width="1.5"/>
<path d="M286 585.2 A10.5 10.5 0 1 1 286 606.2 L264 603.7 Q259 602.7 259 595.7 Q259 588.7 264 587.7 Z" fill="#1a1a1a"/>
<path d="M263 589.7 L286 589.2 Q292 590.7 292 595.7 Q292 600.7 286 602.2 L263 601.7 Q261 595.7 263 589.7 Z" fill="#c9ccd1"/>
<path d="M266 595.7 H288" stroke="#6a6e74" stroke-width="1.5"/>
<circle cx="257" cy="624" r="15" fill="#d3d5d8"/>
<path d="M257 609 A15 15 0 0 1 272 624 H257 Z" fill="#eceef0"/>
<rect x="250" y="621" width="8" height="23" fill="#2a2a2a"/>
<rect x="264" y="622" width="45" height="11" rx="5" fill="#262626"/>
<!-- lower left white cabinet -->
<rect x="115.5" y="644.5" width="90" height="203.5" fill="url(#gWhiteCab)"/>
<rect x="115.5" y="644.5" width="90" height="49.5" fill="url(#gWhiteCab)"/>
<rect x="115.5" y="712" width="90" height="93" fill="url(#gWhiteCab)"/>
<rect x="115.5" y="822" width="90" height="26" fill="#ececec"/>
<rect x="115.5" y="693.75" width="90" height="18.2" fill="url(#gOrangeBar)"/>
<rect x="115.5" y="805" width="90" height="17" fill="url(#gOrangeBar)"/>
<!-- orange frame -->
<rect x="205.5" y="644.5" width="278" height="203.5" fill="#f0843a"/>
<rect x="484" y="644.5" width="2" height="203.5" fill="#f7b27a"/>
<rect x="214" y="653.6" width="257" height="194.4" fill="url(#gRightWall)"/>
<rect x="214" y="653.6" width="222" height="51" fill="url(#pPerf)"/>
<g fill="none" stroke="#1e1e1e" stroke-width="3.2">
<path d="M253 700 V660 H452 Q462 660 462 668 V680"/>
<path d="M277 700 V665 H440"/>
<path d="M300 700 V669 H455 Q468 669 468 660 V654"/>
<path d="M397 700 V669"/>
<path d="M419 700 V672 H470"/>
</g>
<!-- tanks -->
<rect x="214" y="704.6" width="134.5" height="143.4" fill="url(#gTank)"/>
<rect x="214" y="704.6" width="134.5" height="28.5" rx="5" fill="url(#gTankTop)"/>
<rect x="348.5" y="704.6" width="121.8" height="143.4" fill="url(#gTank)"/>
<rect x="348.5" y="704.6" width="121.8" height="28.5" rx="5" fill="url(#gTankTop)"/>
<line x1="214" y1="733" x2="470" y2="733" stroke="#c4cdd5" stroke-width="1.2"/>
<line x1="348.5" y1="704.6" x2="348.5" y2="848" stroke="#aeb8c2" stroke-width="1.2"/>
<rect x="259.4" y="694.4" width="22.2" height="10.5" rx="1.5" fill="#e4e4e4"/>
<rect x="282.8" y="694.4" width="31.7" height="10.5" rx="1.5" fill="#e9e9e9"/>
<rect x="269" y="691.5" width="13" height="3.5" fill="#f2f2f2"/><rect x="293" y="691.5" width="12" height="3.5" fill="#f2f2f2"/>
<rect x="379" y="694.4" width="26" height="10.5" rx="1.5" fill="#e4e4e4"/>
<rect x="406" y="694.4" width="27.6" height="10.5" rx="1.5" fill="#e9e9e9"/>
<rect x="389" y="691.5" width="12" height="3.5" fill="#f2f2f2"/><rect x="412" y="691.5" width="12" height="3.5" fill="#f2f2f2"/>
<rect x="296.4" y="818.1" width="131.5" height="20.4" fill="#f3f4f5"/>
<polygon points="286,828 296.4,826 296.4,830" fill="#eef0f2"/>
<text x="310.7" y="831.2" font-size="12.5" font-weight="bold" fill="#262626" textLength="97.5" lengthAdjust="spacingAndGlyphs">Electrolyte tank</text>

<!-- panel f -->
<text x="659" y="502.6" font-size="23" font-weight="bold" fill="#111" stroke="#111" stroke-width="0.9">f</text>
<defs>
<linearGradient id="gWall" x1="0" x2="1" y1="0" y2="0"><stop offset="0" stop-color="#c4c7cb"/><stop offset="0.5" stop-color="#d0d3d6"/><stop offset="1" stop-color="#bcc4cb"/></linearGradient>
<linearGradient id="gFront" x1="0" x2="1"><stop offset="0" stop-color="#c2c3c5"/><stop offset="1" stop-color="#d0d1d3"/></linearGradient>
<linearGradient id="gBmsFront" x1="0" x2="1"><stop offset="0" stop-color="#d6d7d9"/><stop offset="1" stop-color="#dcdcdd"/></linearGradient>
<pattern id="pVent" width="28" height="10.6" patternUnits="userSpaceOnUse" x="872" y="517">
<rect x="0" y="0" width="11" height="2.2" rx="1" fill="#444"/><rect x="14" y="0" width="11" height="2.2" rx="1" fill="#444"/>
<rect x="7" y="5.3" width="11" height="2.2" rx="1" fill="#444"/><rect x="21" y="5.3" width="11" height="2.2" rx="1" fill="#444"/><rect x="-7" y="5.3" width="11" height="2.2" rx="1" fill="#444"/>
</pattern>
</defs>
<rect x="721" y="480.5" width="425" height="367.5" fill="url(#gWall)"/>
<rect x="721" y="480.5" width="12" height="367.5" fill="#bfc3c7"/>
<rect x="1109" y="480.5" width="1.3" height="190" fill="#7f8890"/>
<rect x="1126.5" y="480.5" width="19.5" height="367.5" fill="#8e99a4"/>
<rect x="1134.5" y="480.5" width="3" height="367.5" fill="#a9b3bd"/>
<line x1="900.3" y1="480.5" x2="900.3" y2="499" stroke="#3a3a3a" stroke-width="1.2"/>
<line x1="920.4" y1="480.5" x2="920.4" y2="501.5" stroke="#3a3a3a" stroke-width="1.2"/>
<!-- dark gap -->
<rect x="934" y="523" width="32" height="141" fill="#2c3035"/>
<rect x="934" y="547" width="32" height="11" fill="#62666b"/>
<rect x="934" y="619" width="32" height="11" fill="#5a5e63"/>
<rect x="938" y="530" width="26" height="12" fill="#3d4248"/>
<rect x="947" y="583" width="9" height="11" fill="#9a6a50"/>
<line x1="954" y1="593" x2="947" y2="640" stroke="#8a7a50" stroke-width="1"/>
<!-- BMS box -->
<polygon points="749,517 856.2,493.4 856.2,664 749,664" fill="url(#gBmsFront)"/>
<polygon points="749,517 856.2,493.4 856.2,509 749,529.7" fill="#2462ab"/>
<g fill="#cfe0ef"><rect x="783" y="509" width="2" height="10"/><rect x="788" y="508" width="2" height="10"/><rect x="793" y="507" width="2" height="10"/><rect x="798" y="506" width="2" height="10"/><rect x="803" y="505" width="2" height="10"/></g>
<rect x="850.5" y="509" width="5.7" height="155" fill="#e2e2e2"/>
<polygon points="856.2,493.4 933.5,502.8 933.5,664 856.2,664" fill="#e4e3e1"/>
<rect x="872" y="516.5" width="53" height="87.5" fill="url(#pVent)"/>
<rect x="775.5" y="544.2" width="35" height="51" fill="#b3b4b6"/>
<rect x="778" y="552.5" width="30" height="34.5" fill="#cbcdcf" stroke="#2e2e2e" stroke-width="1.6"/>
<circle cx="790" cy="628.5" r="5.5" fill="#d8381f"/>
<rect x="787" y="642" width="6" height="4" fill="#333"/>
<rect x="755" y="585" width="2" height="24" fill="#555"/>
<text x="866" y="652.6" font-size="14.5" fill="#277a90" textLength="33" lengthAdjust="spacingAndGlyphs">BMS</text>
<!-- Stack box -->
<polygon points="966,511 1128.7,527.8 1128.7,664 966,664" fill="#e2dfda"/>
<polygon points="966,511 1020.2,514 970,577 970,664 966,664" fill="#2e72bf"/>
<polygon points="1008,513.6 1015,514 970,570 970,562" fill="#e2dfda"/>
<polygon points="1128.7,598 1128.7,664 1078,664" fill="#2e72bf"/>
<polygon points="1128.7,608 1128.7,614 1087,664 1082,664" fill="#e2dfda"/>
<polygon points="1055.8,558 1078.5,592 1054.9,624.5 1029.9,590.6" fill="#2a6fc0"/>
<g stroke="#dfe6ef" stroke-width="1.4"><line x1="1051" y1="569" x2="1035" y2="589"/><line x1="1073" y1="596" x2="1056" y2="617"/></g>
<g stroke="#2a6fc0" stroke-width="3" stroke-linecap="round"><line x1="1036.5" y1="569.5" x2="1041.5" y2="564"/><line x1="1048.5" y1="563" x2="1055.5" y2="555.5"/></g>
<text x="1041.7" y="605.7" font-size="26" fill="#c4d3e6" textLength="24.5" lengthAdjust="spacingAndGlyphs" font-weight="bold" transform="translate(1041.7 605.7) scale(1 1.15) translate(-1041.7 -605.7)">ZnBr</text>
<text x="999" y="644.3" font-size="14.5" fill="#2a8794" textLength="39" lengthAdjust="spacingAndGlyphs">Stack</text>
<g fill="none" stroke="#6a5a3e" stroke-width="1.8">
<circle cx="1030" cy="523" r="2.7"/><circle cx="1054.5" cy="525.5" r="2.7"/><circle cx="1079" cy="528" r="2.7"/><circle cx="1104" cy="530.5" r="2.7"/>
<circle cx="1124" cy="554" r="2.7"/><circle cx="1124" cy="581" r="2.7"/>
<circle cx="1003" cy="656.3" r="2.7"/><circle cx="1030" cy="656.3" r="2.7"/><circle cx="1054" cy="656.3" r="2.7"/><circle cx="1078" cy="656.3" r="2.7"/>
<circle cx="976" cy="603" r="2.7"/><circle cx="976" cy="633" r="2.7"/>
</g>
<!-- lower cabinet -->
<rect x="732" y="665.5" width="124" height="182.5" fill="url(#gFront)"/>
<rect x="856" y="665.5" width="283.7" height="182.5" fill="#dfdedc"/>
<rect x="732" y="664" width="407.7" height="2" fill="#f0f0f0"/>
<rect x="732" y="666.5" width="407.7" height="1" fill="#8a8a8a"/>
<!-- B logo -->
<polygon points="925.3,717 952.8,751.7 923.1,789.9 894.9,755.2" fill="#3592d3"/>
<g stroke="#dfdedc" stroke-width="1.8">
<line x1="922" y1="719" x2="896" y2="751"/><line x1="929" y1="722" x2="899" y2="759"/><line x1="935" y1="729" x2="903" y2="767"/><line x1="941" y1="736" x2="908" y2="775"/><line x1="947" y1="744" x2="913" y2="784"/><line x1="953" y1="752" x2="919" y2="791"/>
</g>
<rect x="911" y="738.5" width="30" height="30.5" fill="#3592d3"/>
<text x="912.2" y="767.3" font-size="37" font-weight="bold" fill="#dae6f0" textLength="27" lengthAdjust="spacingAndGlyphs">B</text>
<rect x="903" y="728" width="5" height="5" transform="rotate(-50 905.5 730.5)" fill="#3592d3"/>
<text x="885.7" y="812" font-size="12.5" fill="#3d91cf" stroke="#3d91cf" stroke-width="0.3" textLength="50" lengthAdjust="spacingAndGlyphs">Bromino</text>
<!-- big blue graphic -->
<g fill="#2791d5">
<polygon points="1049.2,673.4 1075,673.4 1060.4,694.1"/>
<polygon points="1090,673.4 1139.7,673.4 1139.7,848 1067.4,848 1014.8,782.4"/>
</g>
<g fill="#dfdedc">
<polygon points="1112,673.4 1124.2,673.4 1110.9,695.5 1097.6,695.5"/>
<polygon points="1023.6,802.1 1088.7,707.7 1088.7,732 1032.8,813.1"/>
<polygon points="1043.8,827.5 1088.7,762.4 1088.7,786.6 1052.5,839.1"/>
<polygon points="1064.6,852 1088.7,817.1 1088.7,841.2 1080,854"/>
<rect x="1100.9" y="713.2" width="38.8" height="122"/>
</g>
<g fill="#2791d5">
<rect x="1116.4" y="735.4" width="23.3" height="25.5"/>
<rect x="1116.4" y="780.8" width="23.3" height="32.2"/>
</g>
<polygon points="1014.8,782.4 1067.4,848 1000,848 1000,782" fill="#dfdedc"/>

</svg></body></html>
